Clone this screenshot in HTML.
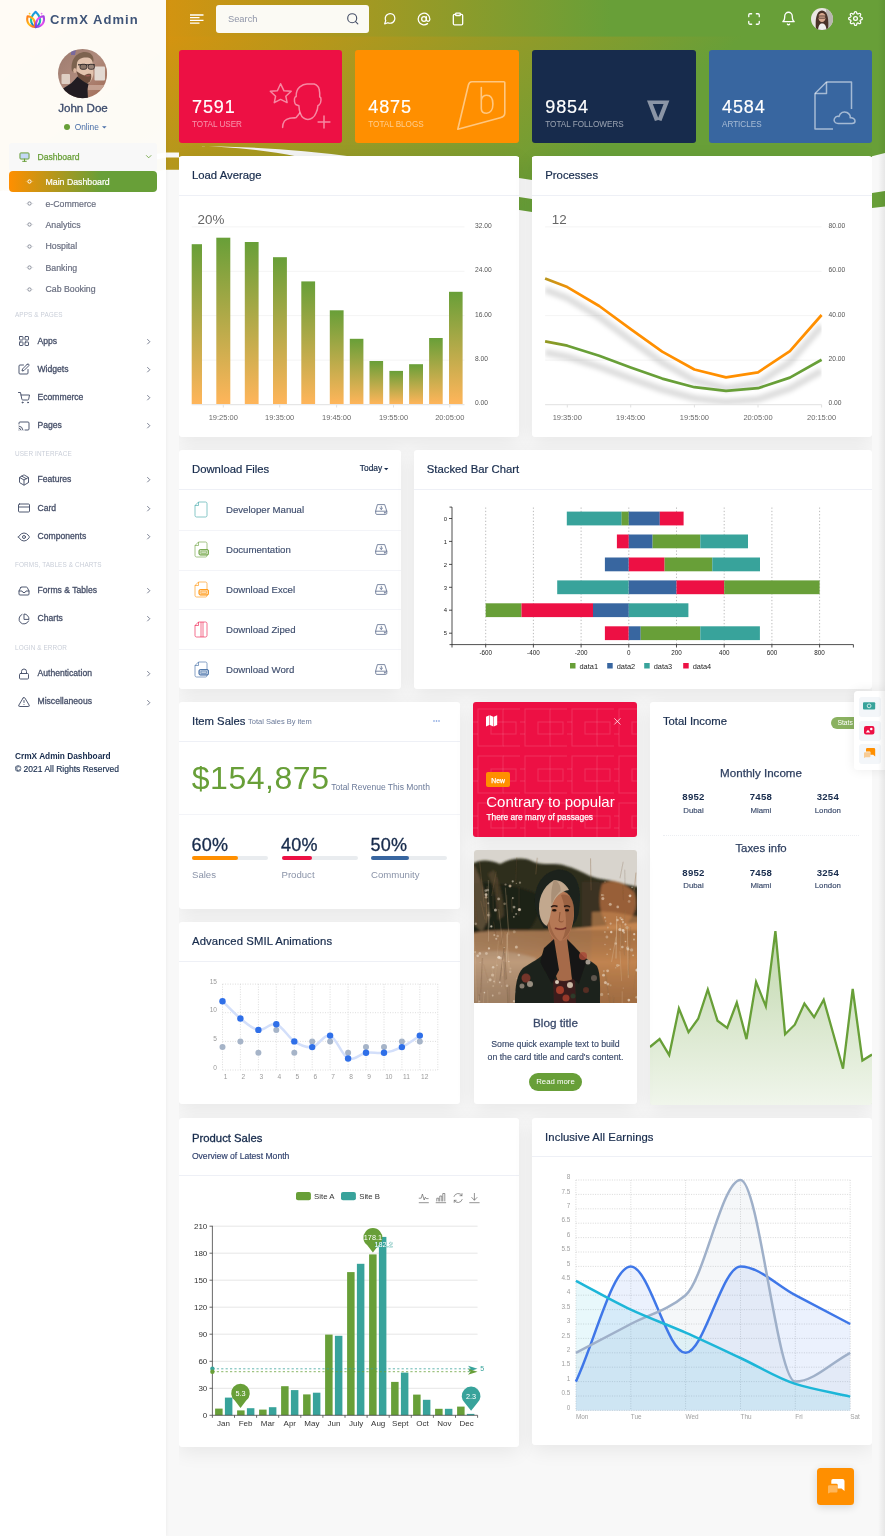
<!DOCTYPE html>
<html lang="en"><head><meta charset="utf-8"><title>CrmX Admin - Dashboard</title>
<style>
*{box-sizing:border-box;margin:0;padding:0}
html,body{width:885px;height:1536px;overflow:hidden}
body{position:relative;background:#f8f8f8;font-family:"Liberation Sans",sans-serif;color:#172b4c;font-size:10px;line-height:1}
.abs{position:absolute}
svg{display:block;overflow:visible}
.t{position:absolute;white-space:nowrap;line-height:1}
#bg{position:absolute;left:0;top:0;width:885px;height:260px}
#side{position:absolute;left:0;top:0;width:166px;height:1536px;background:rgba(255,255,255,.96);box-shadow:1px 0 3px rgba(0,0,0,.04)}
.card{position:absolute;background:#fff;border-radius:3px;box-shadow:0 5px 20px rgba(0,0,0,.075)}
.ch{position:absolute;left:0;right:0;top:0;border-bottom:1px solid #eef0f6}
.ct{position:absolute;left:13px;font-size:11.3px;color:#172b4c;white-space:nowrap;font-weight:400;-webkit-text-stroke:.2px #172b4c;margin-top:.4px}
.stat{position:absolute;top:50px;height:93px;border-radius:3px;color:#fff}
.stat .n{position:absolute;left:13px;top:47.5px;font-size:18px;letter-spacing:.9px;white-space:nowrap;-webkit-text-stroke:.2px #fff}
.stat .l{position:absolute;left:13px;top:70.5px;font-size:8.15px;white-space:nowrap;opacity:.55}
.mi{position:absolute;left:37.5px;font-size:8.6px;color:#475069;white-space:nowrap;-webkit-text-stroke:.3px #475069}
.sm{position:absolute;left:45.5px;font-size:8.6px;color:#5c6578;white-space:nowrap;-webkit-text-stroke:.3px #5c6578}
.sec{position:absolute;left:15px;font-size:6.4px;color:#c9ced8;white-space:nowrap;letter-spacing:.1px}
.chev{position:absolute;left:146px;width:5px;height:7px}
.ico{position:absolute;left:18px;width:12px;height:12px;stroke:#475069;fill:none;stroke-width:1.9;stroke-linecap:round;stroke-linejoin:round}
.bul{position:absolute;left:25px;width:9px;height:5px}

#clip{position:absolute;left:179px;top:0;width:693.2px;height:1536px;overflow:hidden}
#clipin{position:absolute;left:-179px;top:0;width:885px;height:1536px}

</style></head>
<body>
<svg id="bg" viewBox="0 0 885 260" width="885" height="260">
<defs>
<linearGradient id="gb" gradientUnits="userSpaceOnUse" x1="85" y1="-77" x2="388" y2="313"><stop offset="0" stop-color="#ff8f00"/><stop offset="1" stop-color="#689f38"/></linearGradient>
<linearGradient id="gh" gradientUnits="userSpaceOnUse" x1="-18" y1="0" x2="611" y2="0"><stop offset="0" stop-color="#ff8f00"/><stop offset="1" stop-color="#689f38"/></linearGradient>
</defs>
<path d="M0 0H885V153L872 156.2V157H532V180L519 178V157H179V152.5H166C110 160 50 183 0 191Z" fill="url(#gb)"/>
<path d="M0 191C60 184 115 168 166 157.6H179V169.7H166C115 176 60 187 0 191Z" fill="url(#gb)"/>
<path d="M519 197L532 199V212L519 210Z" fill="url(#gb)"/>
<path d="M872 192.9L885 191V206.4L872 208Z" fill="url(#gb)"/>
<path d="M183 146Q275 146 351 156.5H297Q250 146.3 183 146Z" fill="#f3f4f4"/>
<rect x="166" y="0" width="719" height="36.6" fill="url(#gh)"/>
</svg>
<div id="side"></div>
<div id="sidec">
<svg class="abs" style="left:22px;top:6px" width="28" height="28" viewBox="0 0 28 28">
<defs>
<linearGradient id="lg1" x1="0" y1="0" x2="0" y2="1"><stop offset="0" stop-color="#1a8fe6"/><stop offset=".55" stop-color="#14c8a8"/><stop offset="1" stop-color="#0f5fd8"/></linearGradient>
<linearGradient id="lg2" x1="0" y1="0" x2="1" y2="1"><stop offset="0" stop-color="#ff7a1a"/><stop offset=".5" stop-color="#ffbf1a"/><stop offset="1" stop-color="#ff5a2a"/></linearGradient>
<linearGradient id="lg3" x1="1" y1="0" x2="0" y2="1"><stop offset="0" stop-color="#9a3fe0"/><stop offset=".5" stop-color="#ee4ff2"/><stop offset="1" stop-color="#7a3fe0"/></linearGradient>
</defs>
<g fill="none" stroke-width="2.1" stroke-linejoin="round">
<path d="M13.6 5.8C9.7 9.5 8.5 13.5 9.4 16.5C10.2 19.2 12 20.6 13.6 21.3C15.2 20.6 17 19.2 17.8 16.5C18.7 13.5 17.5 9.5 13.6 5.8Z" stroke="url(#lg1)"/>
<path d="M13.2 20.8C8 21 4 17 5.6 10.2C10.5 10.4 13.6 14 13.2 20.8Z" stroke="url(#lg2)"/>
<path d="M14 20.8C19.2 21 23.2 17 21.6 10.2C16.7 10.4 13.6 14 14 20.8Z" stroke="url(#lg3)"/>
</g>
<circle cx="7.6" cy="7.6" r=".9" fill="#ffc82a"/><circle cx="19.6" cy="7.6" r=".9" fill="#e070f0"/>
</svg>
<div class="t" style="left:50px;top:12.5px;font-size:13px;font-weight:700;letter-spacing:1.05px;color:#3f5478">CrmX Admin</div>
<svg class="abs" style="left:58.4px;top:49px" width="49.2" height="49.2" viewBox="0 0 49.2 49.2">
<defs><clipPath id="av1"><circle cx="24.6" cy="24.6" r="24.6"/></clipPath><filter id="avf" x="-10%" y="-10%" width="120%" height="120%"><feGaussianBlur stdDeviation=".7"/></filter>
<linearGradient id="avb" x1="0" y1="0" x2="1" y2="1"><stop offset="0" stop-color="#9c7a6e"/><stop offset=".5" stop-color="#b08b7d"/><stop offset="1" stop-color="#a06a54"/></linearGradient></defs>
<g clip-path="url(#av1)">
<rect width="49.2" height="49.2" fill="url(#avb)"/>
<g filter="url(#avf)">
<rect x="36.5" y="17.5" width="10.5" height="14" rx="1" fill="#e3d9d2"/>
<rect x="3.5" y="25" width="8.5" height="10" rx="1" fill="#dfcfc4"/>
<rect x="30" y="36" width="20" height="5" fill="#c4a090"/>
<path d="M13 2L18 1L17 6L13 6Z" fill="#6a5fae" opacity=".7"/>
<path d="M14 22C12 12 18 3 27 3C33 3 36 7 35.5 12L34 16L20 15L17 24Z" fill="#7d6350"/>
<path d="M19 14C20 9.5 25 8 29.5 8.5C33.5 9 35 12 35 16L35.5 24C35.5 27 34 31 31.5 33.5C29 35 26 34.5 23 32C20 29 18.5 25 18.5 21Z" fill="#e2c2ad"/>
<path d="M18.5 22C19 26 21 31 24 33C27 35 30.5 34.5 32 32.5C33.5 30 33.5 27 33 25C31 24.5 28 25 26.5 26.5C24 26 21 24 18.5 22Z" fill="#6e4e3e"/>
<path d="M26.5 26.8C28 25.8 31 25.6 32.5 26.4C31.5 27.6 28 27.8 26.5 26.8Z" fill="#9a5a52"/>
<ellipse cx="16.8" cy="21.5" rx="1.6" ry="2.6" fill="#d9b49e"/>
<path d="M20 15.8H36.8" stroke="#2a2526" stroke-width="1.1"/>
<rect x="22" y="15.3" width="6.8" height="5" rx="2" fill="#8a7468" stroke="#242021" stroke-width=".8"/>
<rect x="30.2" y="15.3" width="6.2" height="5" rx="2" fill="#9a8478" stroke="#242021" stroke-width=".8"/>
<path d="M3 41C8 37.5 13 35 15.5 32L19.5 27.5C22 30 26 33.5 30.5 35L29.5 40L30 50H4Z" fill="#201e23"/>
</g></g></svg>
<div class="t" style="left:0;width:166px;text-align:center;top:101.7px;font-size:11.6px;color:#3b4a6b;-webkit-text-stroke:.3px #3b4a6b">John Doe</div>
<div class="abs" style="left:63.8px;top:124.2px;width:6.2px;height:6.2px;border-radius:50%;background:#689f38"></div>
<div class="t" style="left:74.7px;top:122.8px;font-size:8.4px;color:#4a6fa8">Online</div>
<svg class="abs" style="left:101.6px;top:126px" width="4.6" height="2.6" viewBox="0 0 10 5"><path d="M0 0H10L5 5Z" fill="#4a6fa8"/></svg>
<div class="abs" style="left:9px;top:143.2px;width:147.6px;height:28px;border-radius:3px;background:#f8f8f8"></div>
<svg class="abs" style="left:18.5px;top:152px" width="11" height="10" viewBox="0 0 24 22"><rect x="2" y="2" width="20" height="13.5" rx="2" fill="#c5d8f5" stroke="#689f38" stroke-width="2.2"/><path d="M8 20.5H16M12 15.5V20.5" stroke="#689f38" stroke-width="2.2" fill="none" stroke-linecap="round"/></svg>
<div class="mi" style="top:153.2px;color:#689f38;-webkit-text-stroke:.25px #689f38">Dashboard</div>
<svg class="abs" style="left:145.8px;top:155.3px" width="5.4" height="3.4" viewBox="0 0 12 7"><path d="M1 1L6 6L11 1" fill="none" stroke="#689f38" stroke-width="1.8" stroke-linecap="round" stroke-linejoin="round"/></svg>
<div class="abs" style="left:9px;top:171px;width:147.6px;height:21.2px;border-radius:4px;background:linear-gradient(90deg,#ff8f00 0%,#689f38 62%)"></div>
<svg class="bul" style="top:179.1px" viewBox="0 0 18 10"><circle cx="9" cy="5" r="3.3" fill="none" stroke="#fff" stroke-width="2"/><path d="M1.5 5H3.5M14.5 5H16.5" stroke="#fff" stroke-width="1" opacity=".5"/></svg>
<div class="sm" style="top:177.8px;color:#fff;font-size:8.75px;-webkit-text-stroke:.2px #fff">Main Dashboard</div>
<svg class="bul" style="top:200.8px" viewBox="0 0 18 10"><circle cx="9" cy="5" r="3.3" fill="none" stroke="#8a8f9c" stroke-width="2"/><path d="M1.5 5H3.5M14.5 5H16.5" stroke="#8a8f9c" stroke-width="1" opacity=".5"/></svg>
<div class="sm" style="top:199.5px;color:#6a6f80;font-size:8.75px;-webkit-text-stroke:.2px #6a6f80">e-Commerce</div>
<svg class="bul" style="top:222.3px" viewBox="0 0 18 10"><circle cx="9" cy="5" r="3.3" fill="none" stroke="#8a8f9c" stroke-width="2"/><path d="M1.5 5H3.5M14.5 5H16.5" stroke="#8a8f9c" stroke-width="1" opacity=".5"/></svg>
<div class="sm" style="top:221.0px;color:#6a6f80;font-size:8.75px;-webkit-text-stroke:.2px #6a6f80">Analytics</div>
<svg class="bul" style="top:243.6px" viewBox="0 0 18 10"><circle cx="9" cy="5" r="3.3" fill="none" stroke="#8a8f9c" stroke-width="2"/><path d="M1.5 5H3.5M14.5 5H16.5" stroke="#8a8f9c" stroke-width="1" opacity=".5"/></svg>
<div class="sm" style="top:242.3px;color:#6a6f80;font-size:8.75px;-webkit-text-stroke:.2px #6a6f80">Hospital</div>
<svg class="bul" style="top:265.1px" viewBox="0 0 18 10"><circle cx="9" cy="5" r="3.3" fill="none" stroke="#8a8f9c" stroke-width="2"/><path d="M1.5 5H3.5M14.5 5H16.5" stroke="#8a8f9c" stroke-width="1" opacity=".5"/></svg>
<div class="sm" style="top:263.8px;color:#6a6f80;font-size:8.75px;-webkit-text-stroke:.2px #6a6f80">Banking</div>
<svg class="bul" style="top:286.7px" viewBox="0 0 18 10"><circle cx="9" cy="5" r="3.3" fill="none" stroke="#8a8f9c" stroke-width="2"/><path d="M1.5 5H3.5M14.5 5H16.5" stroke="#8a8f9c" stroke-width="1" opacity=".5"/></svg>
<div class="sm" style="top:285.4px;color:#6a6f80;font-size:8.75px;-webkit-text-stroke:.2px #6a6f80">Cab Booking</div>
<div class="sec" style="top:312.0px">APPS &amp; PAGES</div>
<div class="sec" style="top:450.8px">USER INTERFACE</div>
<div class="sec" style="top:561.8px">FORMS, TABLES &amp; CHARTS</div>
<div class="sec" style="top:644.8px">LOGIN &amp; ERROR</div>
<svg class="ico" style="top:335.3px;left:18px" viewBox="0 0 24 24"><rect x="3" y="3" width="7" height="7" rx="1"/><rect x="14" y="3" width="7" height="7" rx="1"/><rect x="14" y="14" width="7" height="7" rx="1"/><rect x="3" y="14" width="7" height="7" rx="1"/></svg>
<div class="mi" style="top:336.6px">Apps</div>
<svg class="abs" style="left:147px;top:338.7px" width="3.4" height="5.4" viewBox="0 0 7 12"><path d="M1 1L6 6L1 11" fill="none" stroke="#475069" stroke-width="1.6" stroke-linecap="round" stroke-linejoin="round"/></svg>
<svg class="ico" style="top:363.4px;left:18px" viewBox="0 0 24 24"><path d="M11 4H4a2 2 0 0 0-2 2v14a2 2 0 0 0 2 2h14a2 2 0 0 0 2-2v-7"/><path d="M18.5 2.5a2.121 2.121 0 0 1 3 3L12 15l-4 1 1-4 9.5-9.5z"/></svg>
<div class="mi" style="top:364.7px">Widgets</div>
<svg class="abs" style="left:147px;top:366.8px" width="3.4" height="5.4" viewBox="0 0 7 12"><path d="M1 1L6 6L1 11" fill="none" stroke="#475069" stroke-width="1.6" stroke-linecap="round" stroke-linejoin="round"/></svg>
<svg class="ico" style="top:391.8px;left:18px" viewBox="0 0 24 24"><circle cx="9" cy="21" r="1"/><circle cx="20" cy="21" r="1"/><path d="M1 1h4l2.68 13.39a2 2 0 0 0 2 1.61h9.72a2 2 0 0 0 2-1.61L23 6H6"/></svg>
<div class="mi" style="top:393.1px">Ecommerce</div>
<svg class="abs" style="left:147px;top:395.2px" width="3.4" height="5.4" viewBox="0 0 7 12"><path d="M1 1L6 6L1 11" fill="none" stroke="#475069" stroke-width="1.6" stroke-linecap="round" stroke-linejoin="round"/></svg>
<svg class="ico" style="top:419.9px;left:18px" viewBox="0 0 24 24"><path d="M2 16.1A5 5 0 0 1 5.9 20M2 12.05A9 9 0 0 1 9.95 20M2 8V6a2 2 0 0 1 2-2h16a2 2 0 0 1 2 2v12a2 2 0 0 1-2 2h-6"/><line x1="2" y1="20" x2="2.01" y2="20"/></svg>
<div class="mi" style="top:421.2px">Pages</div>
<svg class="abs" style="left:147px;top:423.3px" width="3.4" height="5.4" viewBox="0 0 7 12"><path d="M1 1L6 6L1 11" fill="none" stroke="#475069" stroke-width="1.6" stroke-linecap="round" stroke-linejoin="round"/></svg>
<svg class="ico" style="top:474.0px;left:18px" viewBox="0 0 24 24"><path d="M21 16V8a2 2 0 0 0-1-1.73l-7-4a2 2 0 0 0-2 0l-7 4A2 2 0 0 0 3 8v8a2 2 0 0 0 1 1.73l7 4a2 2 0 0 0 2 0l7-4A2 2 0 0 0 21 16z"/><polyline points="3.27 6.96 12 12.01 20.73 6.96"/><line x1="12" y1="22.08" x2="12" y2="12"/><path d="M16.5 9.4l-9-5.19"/></svg>
<div class="mi" style="top:475.3px">Features</div>
<svg class="abs" style="left:147px;top:477.4px" width="3.4" height="5.4" viewBox="0 0 7 12"><path d="M1 1L6 6L1 11" fill="none" stroke="#475069" stroke-width="1.6" stroke-linecap="round" stroke-linejoin="round"/></svg>
<svg class="ico" style="top:502.2px;left:18px" viewBox="0 0 24 24"><rect x="1" y="4" width="22" height="16" rx="2"/><line x1="1" y1="10" x2="23" y2="10"/></svg>
<div class="mi" style="top:503.5px">Card</div>
<svg class="abs" style="left:147px;top:505.6px" width="3.4" height="5.4" viewBox="0 0 7 12"><path d="M1 1L6 6L1 11" fill="none" stroke="#475069" stroke-width="1.6" stroke-linecap="round" stroke-linejoin="round"/></svg>
<svg class="ico" style="top:530.6px;left:18px" viewBox="0 0 24 24"><path d="M1 12s4-8 11-8 11 8 11 8-4 8-11 8-11-8-11-8z"/><circle cx="12" cy="12" r="3"/></svg>
<div class="mi" style="top:531.9px">Components</div>
<svg class="abs" style="left:147px;top:534.0px" width="3.4" height="5.4" viewBox="0 0 7 12"><path d="M1 1L6 6L1 11" fill="none" stroke="#475069" stroke-width="1.6" stroke-linecap="round" stroke-linejoin="round"/></svg>
<svg class="ico" style="top:584.8px;left:18px" viewBox="0 0 24 24"><polyline points="22 12 16 12 14 15 10 15 8 12 2 12"/><path d="M5.45 5.11L2 12v6a2 2 0 0 0 2 2h16a2 2 0 0 0 2-2v-6l-3.45-6.89A2 2 0 0 0 16.76 4H7.24a2 2 0 0 0-1.79 1.11z"/></svg>
<div class="mi" style="top:586.1px">Forms &amp; Tables</div>
<svg class="abs" style="left:147px;top:588.2px" width="3.4" height="5.4" viewBox="0 0 7 12"><path d="M1 1L6 6L1 11" fill="none" stroke="#475069" stroke-width="1.6" stroke-linecap="round" stroke-linejoin="round"/></svg>
<svg class="ico" style="top:612.9px;left:18px" viewBox="0 0 24 24"><path d="M21.21 15.89A10 10 0 1 1 8 2.83"/><path d="M22 12A10 10 0 0 0 12 2v10z"/></svg>
<div class="mi" style="top:614.2px">Charts</div>
<svg class="abs" style="left:147px;top:616.3px" width="3.4" height="5.4" viewBox="0 0 7 12"><path d="M1 1L6 6L1 11" fill="none" stroke="#475069" stroke-width="1.6" stroke-linecap="round" stroke-linejoin="round"/></svg>
<svg class="ico" style="top:668.0px;left:18px" viewBox="0 0 24 24"><rect x="3" y="11" width="18" height="11" rx="2"/><path d="M7 11V7a5 5 0 0 1 10 0v4"/></svg>
<div class="mi" style="top:669.3px">Authentication</div>
<svg class="abs" style="left:147px;top:671.4px" width="3.4" height="5.4" viewBox="0 0 7 12"><path d="M1 1L6 6L1 11" fill="none" stroke="#475069" stroke-width="1.6" stroke-linecap="round" stroke-linejoin="round"/></svg>
<svg class="ico" style="top:696.1px;left:18px" viewBox="0 0 24 24"><path d="M10.29 3.86L1.82 18a2 2 0 0 0 1.71 3h16.94a2 2 0 0 0 1.71-3L13.71 3.86a2 2 0 0 0-3.42 0z"/><line x1="12" y1="9" x2="12" y2="13"/><line x1="12" y1="17" x2="12.01" y2="17"/></svg>
<div class="mi" style="top:697.4px">Miscellaneous</div>
<svg class="abs" style="left:147px;top:699.5px" width="3.4" height="5.4" viewBox="0 0 7 12"><path d="M1 1L6 6L1 11" fill="none" stroke="#475069" stroke-width="1.6" stroke-linecap="round" stroke-linejoin="round"/></svg>
<div class="t" style="left:15px;top:752px;font-size:8.3px;font-weight:700;color:#172b4c">CrmX Admin Dashboard</div>
<div class="t" style="left:15px;top:765.2px;font-size:8.5px;color:#172b4c;-webkit-text-stroke:.15px #172b4c">© 2021 All Rights Reserved</div>
</div>
<div id="hdr">
<svg class="abs" style="left:189.5px;top:13.6px" width="13.5" height="10" viewBox="0 0 13.5 10"><path d="M0 1H13.5M0 3.7H9.5M0 6.4H13.5M0 9.1H9.5" stroke="#fff" stroke-width="1.3" fill="none"/></svg>
<div class="abs" style="left:216px;top:5px;width:153px;height:27.5px;border-radius:3px;background:#fbfaf4"></div>
<div class="t" style="left:228px;top:14.7px;font-size:9.3px;color:#8f95a8">Search</div>
<svg class="abs" style="left:345.5px;top:12.2px" width="13.5" height="13.5" viewBox="0 0 24 24" fill="none" stroke="#475069" stroke-width="2" stroke-linecap="round"><circle cx="11" cy="11" r="8"/><line x1="21" y1="21" x2="16.65" y2="16.65"/></svg>
<svg class="abs" style="left:383px;top:11.8px" width="13.5" height="13.5" viewBox="0 0 24 24" fill="none" stroke="#fff" stroke-width="2.2" stroke-linecap="round" stroke-linejoin="round"><path d="M21 11.5a8.38 8.38 0 0 1-.9 3.8 8.5 8.5 0 0 1-7.6 4.7 8.38 8.38 0 0 1-3.8-.9L3 21l1.9-5.7a8.38 8.38 0 0 1-.9-3.8 8.5 8.5 0 0 1 4.7-7.6 8.38 8.38 0 0 1 3.8-.9h.5a8.48 8.48 0 0 1 8 8v.5z"/></svg>
<svg class="abs" style="left:416.5px;top:11.5px" width="14" height="14" viewBox="0 0 24 24" fill="none" stroke="#fff" stroke-width="2.2" stroke-linecap="round" stroke-linejoin="round"><circle cx="12" cy="12" r="4"/><path d="M16 8v5a3 3 0 0 0 6 0v-1a10 10 0 1 0-3.92 7.94"/></svg>
<svg class="abs" style="left:450.6px;top:11.5px" width="14" height="14" viewBox="0 0 24 24" fill="none" stroke="#fff" stroke-width="2.2" stroke-linecap="round" stroke-linejoin="round"><path d="M16 4h2a2 2 0 0 1 2 2v14a2 2 0 0 1-2 2H6a2 2 0 0 1-2-2V6a2 2 0 0 1 2-2h2"/><rect x="8" y="2" width="8" height="4" rx="1"/></svg>
<svg class="abs" style="left:747px;top:11.8px" width="14" height="14" viewBox="0 0 24 24" fill="none" stroke="#fff" stroke-width="2.2" stroke-linecap="round" stroke-linejoin="round"><path d="M8 3H5a2 2 0 0 0-2 2v3m18 0V5a2 2 0 0 0-2-2h-3m0 18h3a2 2 0 0 0 2-2v-3M3 16v3a2 2 0 0 0 2 2h3"/></svg>
<svg class="abs" style="left:780.5px;top:11.2px" width="15" height="15" viewBox="0 0 24 24" fill="none" stroke="#fff" stroke-width="2.1" stroke-linecap="round" stroke-linejoin="round"><path d="M18 8A6 6 0 0 0 6 8c0 7-3 9-3 9h18s-3-2-3-9"/><path d="M13.73 21a2 2 0 0 1-3.46 0"/></svg>
<svg class="abs" style="left:810.5px;top:7.8px" width="22" height="22" viewBox="0 0 22 22"><defs><clipPath id="av2"><circle cx="11" cy="11" r="11"/></clipPath></defs><g clip-path="url(#av2)"><rect width="22" height="22" fill="#e9e6e2"/><rect x="15" y="0" width="7" height="22" fill="#b9b6b0"/><path d="M5 22C4 12 5 3 11 2.5C17 3 18 12 17 22Z" fill="#4a3228"/><ellipse cx="11" cy="9.5" rx="3.6" ry="4.6" fill="#d9a98f"/><path d="M7 22C7.5 17 9 15.5 11 15.5C13.5 15.5 15 17 15.5 22Z" fill="#f1efee"/><rect x="7.6" y="8" width="6.8" height="2.2" rx=".8" fill="none" stroke="#2a1c18" stroke-width=".7"/></g></svg>
<svg class="abs" style="left:848px;top:11.3px" width="15" height="15" viewBox="0 0 24 24" fill="none" stroke="#fff" stroke-width="2" stroke-linecap="round" stroke-linejoin="round"><circle cx="12" cy="12" r="3"/><path d="M19.4 15a1.65 1.65 0 0 0 .33 1.82l.06.06a2 2 0 0 1 0 2.83 2 2 0 0 1-2.83 0l-.06-.06a1.65 1.65 0 0 0-1.82-.33 1.65 1.65 0 0 0-1 1.51V21a2 2 0 0 1-2 2 2 2 0 0 1-2-2v-.09A1.65 1.65 0 0 0 9 19.4a1.65 1.65 0 0 0-1.82.33l-.06.06a2 2 0 0 1-2.83 0 2 2 0 0 1 0-2.83l.06-.06a1.65 1.65 0 0 0 .33-1.82 1.65 1.65 0 0 0-1.51-1H3a2 2 0 0 1-2-2 2 2 0 0 1 2-2h.09A1.65 1.65 0 0 0 4.6 9a1.65 1.65 0 0 0-.33-1.82l-.06-.06a2 2 0 0 1 0-2.83 2 2 0 0 1 2.83 0l.06.06a1.65 1.65 0 0 0 1.82.33H9a1.65 1.65 0 0 0 1-1.51V3a2 2 0 0 1 2-2 2 2 0 0 1 2 2v.09a1.65 1.65 0 0 0 1 1.51 1.65 1.65 0 0 0 1.82-.33l.06-.06a2 2 0 0 1 2.83 0 2 2 0 0 1 0 2.83l-.06.06a1.65 1.65 0 0 0-.33 1.82V9a1.65 1.65 0 0 0 1.51 1H21a2 2 0 0 1 2 2 2 2 0 0 1-2 2h-.09a1.65 1.65 0 0 0-1.51 1z"/></svg>
</div>
<div id="clip"><div id="clipin">
<div id="stats">
<div class="stat" style="left:179px;width:163.2px;background:#ed1044"><div class="n">7591</div><div class="l">TOTAL USER</div>
<svg class="abs" style="left:91px;top:33px" width="62" height="47" viewBox="0 0 62 47" fill="none" stroke="#fff" stroke-opacity=".5" stroke-width="1.5" stroke-linejoin="round" stroke-linecap="round"><path d="M10.6 .8L14 7.8L21.2 8.3L15.8 13.2L17.1 19.6L10.6 16.4L4.3 19.6L5.6 13.2L.3 8.3L7.4 7.8Z"/><path d="M26.2 13.5C26 9.5 27 6 29.8 3.8C32 2 34.5 1 37 1H44.2C47 2 48.8 4 49.2 6.5C49.8 9 49.8 11.5 49.7 13.7C50.8 14.2 51.2 15.5 51 17C50.9 19 50.4 21 49.2 21.8L47.9 22.7C47.8 25.5 47 28 46 30C45 32.5 43.8 34 42.4 34.9C41 36 39.5 36.5 37.9 36.5C36.3 36.5 34.8 36 33.4 34.9C32 34 31 32.3 30.2 30C29.4 27.8 29 25.3 28.9 22.7L26.2 21.8C25 21 24.6 19.8 24.5 18.5C24.4 16.8 24.5 15 24.8 14.6C25.2 14 25.7 13.7 26.2 13.5Z"/><path d="M29.8 30L26.2 34.5C24.5 35.2 22 35 19.8 35.2C17.5 35.6 15.6 36.6 14.4 38.1C13.2 39.8 12.7 42 12.6 44.4"/><path d="M54 33.1V44.9M48.1 39H59.9"/></svg></div>
<div class="stat" style="left:355.3px;width:163.9px;background:#ff8f00"><div class="n">4875</div><div class="l">TOTAL BLOGS</div>
<svg class="abs" style="left:100px;top:31px" width="52" height="50" viewBox="0 0 52 50" fill="none" stroke="#fff" stroke-opacity=".5" stroke-width="1.6" stroke-linejoin="round" stroke-linecap="round"><path d="M16.8 .8H48.8A1 1 0 0 1 49.8 1.8V32C49.8 34.5 48 36 45.3 36.7L2.8 48.2L13.4 4C13.9 2 15 .8 16.8 .8Z"/><path d="M26.3 6.6V27.5C26.3 30.5 28.5 32.2 31.7 32.2C35.5 32.2 37.9 28.5 37.9 23C37.9 17.5 35.5 14.3 31.7 14.3C29 14.3 27 16 26.3 19"/></svg></div>
<div class="stat" style="left:532.3px;width:163.5px;background:#172b4c"><div class="n">9854</div><div class="l">TOTAL FOLLOWERS</div>
<svg class="abs" style="left:114.8px;top:49.5px" width="22.4" height="21.5" viewBox="0 0 24 22"><path d="M0 0H24L15.5 22L12 20.8L8.5 22Z M6.2 3.8H17.8L12 18.5Z" fill="#fff" fill-opacity=".5" fill-rule="evenodd"/></svg></div>
<div class="stat" style="left:709px;width:163.2px;background:#3866a0"><div class="n">4584</div><div class="l">ARTICLES</div>
<svg class="abs" style="left:104px;top:31px" width="44" height="50" viewBox="0 0 44 50" fill="none" stroke="#fff" stroke-opacity=".55" stroke-width="1.5" stroke-linejoin="round"><path d="M20 48H2V12.5L13.5 1H38.5V28"/><path d="M13.5 1V12.5H2"/><path d="M25 42.5C21.5 42.5 20.5 39.5 21.5 37.5C22.5 35.5 24.5 35 26 35.5C27 31.5 31 30 34 31.5C36.5 32.8 37.5 35 37.2 36.8C40 36.5 42 38 42 40C42 41.5 41 42.5 39 42.5Z"/></svg></div>
</div>
<div class="card" style="left:179px;top:156px;width:340px;height:280.5px"><div class="ch" style="height:39.5px"><div class="ct" style="top:13.8px">Load Average</div></div></div>
<div class="card" style="left:532.3px;top:156px;width:339.7px;height:280.5px"><div class="ch" style="height:39.5px"><div class="ct" style="top:13.8px">Processes</div></div></div>
<svg class="abs" style="left:0;top:0" width="885" height="450" viewBox="0 0 885 450">
<defs><linearGradient id="bg1" x1="0" y1="0" x2="0" y2="1"><stop offset="0" stop-color="#689f38"/><stop offset="1" stop-color="#ffb55a"/></linearGradient><linearGradient id="lo" gradientUnits="userSpaceOnUse" x1="545" y1="0" x2="575" y2="0"><stop offset="0" stop-color="#b8961f"/><stop offset="1" stop-color="#ff8f00"/></linearGradient><linearGradient id="lgn" gradientUnits="userSpaceOnUse" x1="545" y1="0" x2="575" y2="0"><stop offset="0" stop-color="#96981f"/><stop offset="1" stop-color="#689f38"/></linearGradient><filter id="blur1" x="-10%" y="-50%" width="120%" height="200%"><feGaussianBlur stdDeviation="2.2"/></filter></defs>
<path d="M191.7 226.9H464.5" stroke="#f4f4f4" stroke-width="1"/>
<path d="M191.7 271.3H464.5" stroke="#f4f4f4" stroke-width="1"/>
<path d="M191.7 315.6H464.5" stroke="#f4f4f4" stroke-width="1"/>
<path d="M191.7 360.1H464.5" stroke="#f4f4f4" stroke-width="1"/>
<rect x="191.7" y="244.2" width="10.3" height="159.9" fill="url(#bg1)"/>
<rect x="216.3" y="237.7" width="14.0" height="166.4" fill="url(#bg1)"/>
<rect x="244.8" y="242" width="13.8" height="162.1" fill="url(#bg1)"/>
<rect x="273" y="257.2" width="13.9" height="146.9" fill="url(#bg1)"/>
<rect x="301.3" y="281.4" width="13.8" height="122.7" fill="url(#bg1)"/>
<rect x="329.8" y="310.3" width="13.8" height="93.8" fill="url(#bg1)"/>
<rect x="349.8" y="338.8" width="13.6" height="65.3" fill="url(#bg1)"/>
<rect x="369.5" y="361" width="13.6" height="43.1" fill="url(#bg1)"/>
<rect x="389.4" y="370.9" width="13.6" height="33.2" fill="url(#bg1)"/>
<rect x="409.1" y="364.2" width="13.9" height="39.9" fill="url(#bg1)"/>
<rect x="429.1" y="338" width="13.6" height="66.1" fill="url(#bg1)"/>
<rect x="449" y="291.8" width="13.6" height="112.3" fill="url(#bg1)"/>
<path d="M191.7 404.6H464.5" stroke="#e6e6e6" stroke-width="1.2"/>
<path d="M223.3 404.6V407.5" stroke="#e0e0e0" stroke-width="1"/>
<text x="223.3" y="419.8" text-anchor="middle" font-size="7.5" fill="#6a6a6a" style="font-family:'Liberation Sans',sans-serif">19:25:00</text>
<path d="M279.7 404.6V407.5" stroke="#e0e0e0" stroke-width="1"/>
<text x="279.7" y="419.8" text-anchor="middle" font-size="7.5" fill="#6a6a6a" style="font-family:'Liberation Sans',sans-serif">19:35:00</text>
<path d="M336.6 404.6V407.5" stroke="#e0e0e0" stroke-width="1"/>
<text x="336.6" y="419.8" text-anchor="middle" font-size="7.5" fill="#6a6a6a" style="font-family:'Liberation Sans',sans-serif">19:45:00</text>
<path d="M393.5 404.6V407.5" stroke="#e0e0e0" stroke-width="1"/>
<text x="393.5" y="419.8" text-anchor="middle" font-size="7.5" fill="#6a6a6a" style="font-family:'Liberation Sans',sans-serif">19:55:00</text>
<path d="M449.8 404.6V407.5" stroke="#e0e0e0" stroke-width="1"/>
<text x="449.8" y="419.8" text-anchor="middle" font-size="7.5" fill="#6a6a6a" style="font-family:'Liberation Sans',sans-serif">20:05:00</text>
<text x="475" y="227.9" font-size="6.7" fill="#555" style="font-family:'Liberation Sans',sans-serif">32.00</text>
<text x="475" y="272.4" font-size="6.7" fill="#555" style="font-family:'Liberation Sans',sans-serif">24.00</text>
<text x="475" y="317.0" font-size="6.7" fill="#555" style="font-family:'Liberation Sans',sans-serif">16.00</text>
<text x="475" y="361.09999999999997" font-size="6.7" fill="#555" style="font-family:'Liberation Sans',sans-serif">8.00</text>
<text x="475" y="405.4" font-size="6.7" fill="#555" style="font-family:'Liberation Sans',sans-serif">0.00</text>
<text x="197.6" y="224.1" font-size="13.4" fill="#666" style="font-family:'Liberation Sans',sans-serif">20%</text>
<path d="M545.1 226.9H821.6" stroke="#f4f4f4" stroke-width="1"/>
<path d="M545.1 271.3H821.6" stroke="#f4f4f4" stroke-width="1"/>
<path d="M545.1 315.6H821.6" stroke="#f4f4f4" stroke-width="1"/>
<path d="M545.1 360.1H821.6" stroke="#f4f4f4" stroke-width="1"/>
<clipPath id="pc"><rect x="545.1" y="200" width="276.5" height="204.5"/></clipPath>
<g clip-path="url(#pc)"><path d="M545.1 289.4 L567.3 298.1 L599.2 317.0 L630.7 340.2 L662.2 362.6 L694.4 380.5 L726.0 388.4 L758.0 383.3 L789.9 362.2 L821.6 326.0" stroke="#000" stroke-opacity=".13" stroke-width="7" fill="none" filter="url(#blur1)"/><path d="M545.1 352.4 L567.3 356.7 L599.2 366.7 L630.7 378.5 L662.2 389.6 L694.4 398.2 L726.0 401.8 L758.0 399.2 L789.9 388.6 L821.6 370.7" stroke="#000" stroke-opacity=".13" stroke-width="7" fill="none" filter="url(#blur1)"/></g>
<path d="M545.1 404.6H821.6" stroke="#e6e6e6" stroke-width="1.2"/>
<path d="M545.1 278.4 L567.3 287.1 L599.2 306.0 L630.7 329.2 L662.2 351.6 L694.4 369.5 L726.0 377.4 L758.0 372.3 L789.9 351.2 L821.6 315.0" stroke="url(#lo)" stroke-width="2.7" fill="none" stroke-linejoin="round"/>
<path d="M545.1 341.4 L567.3 345.7 L599.2 355.7 L630.7 367.5 L662.2 378.6 L694.4 387.2 L726.0 390.8 L758.0 388.2 L789.9 377.6 L821.6 359.7" stroke="url(#lgn)" stroke-width="2.7" fill="none" stroke-linejoin="round"/>
<path d="M567.3 404.6V407.5" stroke="#e0e0e0" stroke-width="1"/>
<text x="567.3" y="419.8" text-anchor="middle" font-size="7.5" fill="#6a6a6a" style="font-family:'Liberation Sans',sans-serif">19:35:00</text>
<path d="M630.7 404.6V407.5" stroke="#e0e0e0" stroke-width="1"/>
<text x="630.7" y="419.8" text-anchor="middle" font-size="7.5" fill="#6a6a6a" style="font-family:'Liberation Sans',sans-serif">19:45:00</text>
<path d="M694.4 404.6V407.5" stroke="#e0e0e0" stroke-width="1"/>
<text x="694.4" y="419.8" text-anchor="middle" font-size="7.5" fill="#6a6a6a" style="font-family:'Liberation Sans',sans-serif">19:55:00</text>
<path d="M758 404.6V407.5" stroke="#e0e0e0" stroke-width="1"/>
<text x="758" y="419.8" text-anchor="middle" font-size="7.5" fill="#6a6a6a" style="font-family:'Liberation Sans',sans-serif">20:05:00</text>
<path d="M821.6 404.6V407.5" stroke="#e0e0e0" stroke-width="1"/>
<text x="821.6" y="419.8" text-anchor="middle" font-size="7.5" fill="#6a6a6a" style="font-family:'Liberation Sans',sans-serif">20:15:00</text>
<text x="828.5" y="227.9" font-size="6.7" fill="#555" style="font-family:'Liberation Sans',sans-serif">80.00</text>
<text x="828.5" y="272.4" font-size="6.7" fill="#555" style="font-family:'Liberation Sans',sans-serif">60.00</text>
<text x="828.5" y="317.0" font-size="6.7" fill="#555" style="font-family:'Liberation Sans',sans-serif">40.00</text>
<text x="828.5" y="361.09999999999997" font-size="6.7" fill="#555" style="font-family:'Liberation Sans',sans-serif">20.00</text>
<text x="828.5" y="405.4" font-size="6.7" fill="#555" style="font-family:'Liberation Sans',sans-serif">0.00</text>
<text x="551.8" y="224.1" font-size="13.4" fill="#666" style="font-family:'Liberation Sans',sans-serif">12</text>
</svg>
<div class="card" style="left:179px;top:449.8px;width:222.2px;height:239px"><div class="ch" style="height:39.8px"><div class="ct" style="top:13.9px">Download Files</div><div class="t" style="right:19px;top:14.6px;font-size:8.4px;color:#172b4c;-webkit-text-stroke:.2px #172b4c">Today</div><svg class="abs" style="right:13.2px;top:18.3px" width="4.4" height="2.4" viewBox="0 0 10 5"><path d="M0 0H10L5 5Z" fill="#172b4c"/></svg></div></div>
<svg class="abs" style="left:194px;top:501.3px" width="15.5" height="17" viewBox="0 0 15.5 17" fill="none" stroke="#38a3a5" stroke-opacity=".6" stroke-width="1" stroke-linejoin="round"><path d="M4.5 1H11.5C12.3 1 13 1.7 13 2.5V14.5C13 15.3 12.3 16 11.5 16H2.5C1.7 16 1 15.3 1 14.5V4.5Z M4.5 1V4.5H1"/></svg>
<div class="t" style="left:226px;top:505.3px;font-size:9.65px;color:#3f4e6e;-webkit-text-stroke:.15px #3f4e6e">Developer Manual</div>
<svg class="abs" style="left:375px;top:504.0px" width="12.5" height="11" viewBox="0 0 12.5 11" fill="none" stroke="#5a6a8a" stroke-width=".8" stroke-linejoin="round" stroke-linecap="round"><path d="M2.8 .6H9.7L11.8 7.2V9.3C11.8 9.9 11.3 10.4 10.7 10.4H1.8C1.2 10.4 .7 9.9 .7 9.3V7.2Z"/><path d="M.7 7.2H11.8"/><path d="M6.25 2.3V5.3M4.9 4.1L6.25 5.4L7.6 4.1"/><circle cx="9.8" cy="8.8" r=".4"/></svg>
<div class="abs" style="left:179px;top:529.7px;width:222.2px;height:1px;background:#f3f4f8"></div>
<svg class="abs" style="left:194px;top:541.4px" width="15.5" height="17" viewBox="0 0 15.5 17" fill="none" stroke="#689f38" stroke-opacity=".6" stroke-width="1" stroke-linejoin="round"><path d="M4.5 1H11.5C12.3 1 13 1.7 13 2.5V14.5C13 15.3 12.3 16 11.5 16H2.5C1.7 16 1 15.3 1 14.5V4.5Z M4.5 1V4.5H1"/><rect x="5" y="8.5" width="9.5" height="5.5" rx="1.5" fill="#fff"/><rect x="5" y="8.5" width="9.5" height="5.5" rx="1.5" fill="#689f38" fill-opacity=".35"/><rect x="7" y="10" width="5.5" height="2.5" rx=".5" stroke-width=".7"/></svg>
<div class="t" style="left:226px;top:545.4px;font-size:9.65px;color:#3f4e6e;-webkit-text-stroke:.15px #3f4e6e">Documentation</div>
<svg class="abs" style="left:375px;top:544.1px" width="12.5" height="11" viewBox="0 0 12.5 11" fill="none" stroke="#5a6a8a" stroke-width=".8" stroke-linejoin="round" stroke-linecap="round"><path d="M2.8 .6H9.7L11.8 7.2V9.3C11.8 9.9 11.3 10.4 10.7 10.4H1.8C1.2 10.4 .7 9.9 .7 9.3V7.2Z"/><path d="M.7 7.2H11.8"/><path d="M6.25 2.3V5.3M4.9 4.1L6.25 5.4L7.6 4.1"/><circle cx="9.8" cy="8.8" r=".4"/></svg>
<div class="abs" style="left:179px;top:569.5px;width:222.2px;height:1px;background:#f3f4f8"></div>
<svg class="abs" style="left:194px;top:581.2px" width="15.5" height="17" viewBox="0 0 15.5 17" fill="none" stroke="#ff8f00" stroke-opacity=".6" stroke-width="1" stroke-linejoin="round"><path d="M4.5 1H11.5C12.3 1 13 1.7 13 2.5V14.5C13 15.3 12.3 16 11.5 16H2.5C1.7 16 1 15.3 1 14.5V4.5Z M4.5 1V4.5H1"/><rect x="5" y="8.5" width="9.5" height="5.5" rx="1.5" fill="#fff"/><rect x="5" y="8.5" width="9.5" height="5.5" rx="1.5" fill="#ff8f00" fill-opacity=".35"/><rect x="7" y="10" width="5.5" height="2.5" rx=".5" stroke-width=".7"/></svg>
<div class="t" style="left:226px;top:585.2px;font-size:9.65px;color:#3f4e6e;-webkit-text-stroke:.15px #3f4e6e">Download Excel</div>
<svg class="abs" style="left:375px;top:583.9px" width="12.5" height="11" viewBox="0 0 12.5 11" fill="none" stroke="#5a6a8a" stroke-width=".8" stroke-linejoin="round" stroke-linecap="round"><path d="M2.8 .6H9.7L11.8 7.2V9.3C11.8 9.9 11.3 10.4 10.7 10.4H1.8C1.2 10.4 .7 9.9 .7 9.3V7.2Z"/><path d="M.7 7.2H11.8"/><path d="M6.25 2.3V5.3M4.9 4.1L6.25 5.4L7.6 4.1"/><circle cx="9.8" cy="8.8" r=".4"/></svg>
<div class="abs" style="left:179px;top:609.4px;width:222.2px;height:1px;background:#f3f4f8"></div>
<svg class="abs" style="left:194px;top:621.1px" width="15.5" height="17" viewBox="0 0 15.5 17" fill="none" stroke="#ed1044" stroke-opacity=".6" stroke-width="1" stroke-linejoin="round"><path d="M4.5 1H11.5C12.3 1 13 1.7 13 2.5V14.5C13 15.3 12.3 16 11.5 16H2.5C1.7 16 1 15.3 1 14.5V4.5Z M4.5 1V4.5H1"/><path d="M7 1V16M9 1V16"/></svg>
<div class="t" style="left:226px;top:625.1px;font-size:9.65px;color:#3f4e6e;-webkit-text-stroke:.15px #3f4e6e">Download Ziped</div>
<svg class="abs" style="left:375px;top:623.8px" width="12.5" height="11" viewBox="0 0 12.5 11" fill="none" stroke="#5a6a8a" stroke-width=".8" stroke-linejoin="round" stroke-linecap="round"><path d="M2.8 .6H9.7L11.8 7.2V9.3C11.8 9.9 11.3 10.4 10.7 10.4H1.8C1.2 10.4 .7 9.9 .7 9.3V7.2Z"/><path d="M.7 7.2H11.8"/><path d="M6.25 2.3V5.3M4.9 4.1L6.25 5.4L7.6 4.1"/><circle cx="9.8" cy="8.8" r=".4"/></svg>
<div class="abs" style="left:179px;top:649.2px;width:222.2px;height:1px;background:#f3f4f8"></div>
<svg class="abs" style="left:194px;top:660.9px" width="15.5" height="17" viewBox="0 0 15.5 17" fill="none" stroke="#3866a0" stroke-opacity=".6" stroke-width="1" stroke-linejoin="round"><path d="M4.5 1H11.5C12.3 1 13 1.7 13 2.5V14.5C13 15.3 12.3 16 11.5 16H2.5C1.7 16 1 15.3 1 14.5V4.5Z M4.5 1V4.5H1"/><rect x="5" y="8.5" width="9.5" height="5.5" rx="1.5" fill="#fff"/><rect x="5" y="8.5" width="9.5" height="5.5" rx="1.5" fill="#3866a0" fill-opacity=".35"/><rect x="7" y="10" width="5.5" height="2.5" rx=".5" stroke-width=".7"/></svg>
<div class="t" style="left:226px;top:664.9px;font-size:9.65px;color:#3f4e6e;-webkit-text-stroke:.15px #3f4e6e">Download Word</div>
<svg class="abs" style="left:375px;top:663.6px" width="12.5" height="11" viewBox="0 0 12.5 11" fill="none" stroke="#5a6a8a" stroke-width=".8" stroke-linejoin="round" stroke-linecap="round"><path d="M2.8 .6H9.7L11.8 7.2V9.3C11.8 9.9 11.3 10.4 10.7 10.4H1.8C1.2 10.4 .7 9.9 .7 9.3V7.2Z"/><path d="M.7 7.2H11.8"/><path d="M6.25 2.3V5.3M4.9 4.1L6.25 5.4L7.6 4.1"/><circle cx="9.8" cy="8.8" r=".4"/></svg>
<div class="card" style="left:413.8px;top:449.8px;width:458.2px;height:239px"><div class="ch" style="height:39.8px"><div class="ct" style="top:13.9px">Stacked Bar Chart</div></div></div>
<svg class="abs" style="left:0;top:440px" width="885" height="260" viewBox="0 440 885 260">
<path d="M485.7 507.5V644.6" stroke="#aaa" stroke-width=".8" stroke-dasharray="1.3 2"/>
<path d="M533.4 507.5V644.6" stroke="#aaa" stroke-width=".8" stroke-dasharray="1.3 2"/>
<path d="M581.1 507.5V644.6" stroke="#aaa" stroke-width=".8" stroke-dasharray="1.3 2"/>
<path d="M628.8 507.5V644.6" stroke="#aaa" stroke-width=".8" stroke-dasharray="1.3 2"/>
<path d="M676.5 507.5V644.6" stroke="#aaa" stroke-width=".8" stroke-dasharray="1.3 2"/>
<path d="M724.2 507.5V644.6" stroke="#aaa" stroke-width=".8" stroke-dasharray="1.3 2"/>
<path d="M771.9 507.5V644.6" stroke="#aaa" stroke-width=".8" stroke-dasharray="1.3 2"/>
<path d="M819.6 507.5V644.6" stroke="#aaa" stroke-width=".8" stroke-dasharray="1.3 2"/>
<rect x="566.8" y="511.6" width="54.9" height="13.8" fill="#38a39b"/>
<rect x="621.6" y="511.6" width="7.2" height="13.8" fill="#689f38"/>
<rect x="628.8" y="511.6" width="31.0" height="13.8" fill="#3866a0"/>
<rect x="659.8" y="511.6" width="23.8" height="13.8" fill="#ed1044"/>
<path d="M449 518.5H452" stroke="#222" stroke-width=".8"/>
<text x="447" y="520.7" text-anchor="end" font-size="5.9" fill="#222" style="font-family:'Liberation Sans',sans-serif">0</text>
<rect x="616.9" y="534.5" width="11.9" height="13.8" fill="#ed1044"/>
<rect x="628.8" y="534.5" width="23.8" height="13.8" fill="#3866a0"/>
<rect x="652.6" y="534.5" width="47.7" height="13.8" fill="#689f38"/>
<rect x="700.3" y="534.5" width="47.7" height="13.8" fill="#38a39b"/>
<path d="M449 541.4H452" stroke="#222" stroke-width=".8"/>
<text x="447" y="543.6" text-anchor="end" font-size="5.9" fill="#222" style="font-family:'Liberation Sans',sans-serif">1</text>
<rect x="604.9" y="557.5" width="23.8" height="13.8" fill="#3866a0"/>
<rect x="628.8" y="557.5" width="35.8" height="13.8" fill="#ed1044"/>
<rect x="664.6" y="557.5" width="47.7" height="13.8" fill="#689f38"/>
<rect x="712.3" y="557.5" width="47.7" height="13.8" fill="#38a39b"/>
<path d="M449 564.4H452" stroke="#222" stroke-width=".8"/>
<text x="447" y="566.6" text-anchor="end" font-size="5.9" fill="#222" style="font-family:'Liberation Sans',sans-serif">2</text>
<rect x="557.2" y="580.4" width="71.5" height="13.8" fill="#38a39b"/>
<rect x="628.8" y="580.4" width="47.7" height="13.8" fill="#3866a0"/>
<rect x="676.5" y="580.4" width="47.7" height="13.8" fill="#ed1044"/>
<rect x="724.2" y="580.4" width="95.4" height="13.8" fill="#689f38"/>
<path d="M449 587.3H452" stroke="#222" stroke-width=".8"/>
<text x="447" y="589.5" text-anchor="end" font-size="5.9" fill="#222" style="font-family:'Liberation Sans',sans-serif">3</text>
<rect x="485.7" y="603.3" width="35.8" height="13.8" fill="#689f38"/>
<rect x="521.5" y="603.3" width="71.5" height="13.8" fill="#ed1044"/>
<rect x="593.0" y="603.3" width="35.8" height="13.8" fill="#3866a0"/>
<rect x="628.8" y="603.3" width="59.6" height="13.8" fill="#38a39b"/>
<path d="M449 610.2H452" stroke="#222" stroke-width=".8"/>
<text x="447" y="612.4" text-anchor="end" font-size="5.9" fill="#222" style="font-family:'Liberation Sans',sans-serif">4</text>
<rect x="604.9" y="626.3" width="23.8" height="13.8" fill="#ed1044"/>
<rect x="628.8" y="626.3" width="11.9" height="13.8" fill="#3866a0"/>
<rect x="640.7" y="626.3" width="59.6" height="13.8" fill="#689f38"/>
<rect x="700.3" y="626.3" width="59.6" height="13.8" fill="#38a39b"/>
<path d="M449 633.2H452" stroke="#222" stroke-width=".8"/>
<text x="447" y="635.4" text-anchor="end" font-size="5.9" fill="#222" style="font-family:'Liberation Sans',sans-serif">5</text>
<path d="M449.5 507.1H452V644.6H853.4M452 644.6V647.5M853.4 644.6V647.5M449.5 644.6H452" stroke="#222" stroke-width=".8" fill="none"/>
<path d="M485.7 644.6V647.5" stroke="#222" stroke-width=".8"/>
<text x="485.7" y="655" text-anchor="middle" font-size="6.3" fill="#222" style="font-family:'Liberation Sans',sans-serif">-600</text>
<path d="M533.4 644.6V647.5" stroke="#222" stroke-width=".8"/>
<text x="533.4" y="655" text-anchor="middle" font-size="6.3" fill="#222" style="font-family:'Liberation Sans',sans-serif">-400</text>
<path d="M581.1 644.6V647.5" stroke="#222" stroke-width=".8"/>
<text x="581.1" y="655" text-anchor="middle" font-size="6.3" fill="#222" style="font-family:'Liberation Sans',sans-serif">-200</text>
<path d="M628.8 644.6V647.5" stroke="#222" stroke-width=".8"/>
<text x="628.8" y="655" text-anchor="middle" font-size="6.3" fill="#222" style="font-family:'Liberation Sans',sans-serif">0</text>
<path d="M676.5 644.6V647.5" stroke="#222" stroke-width=".8"/>
<text x="676.5" y="655" text-anchor="middle" font-size="6.3" fill="#222" style="font-family:'Liberation Sans',sans-serif">200</text>
<path d="M724.2 644.6V647.5" stroke="#222" stroke-width=".8"/>
<text x="724.2" y="655" text-anchor="middle" font-size="6.3" fill="#222" style="font-family:'Liberation Sans',sans-serif">400</text>
<path d="M771.9 644.6V647.5" stroke="#222" stroke-width=".8"/>
<text x="771.9" y="655" text-anchor="middle" font-size="6.3" fill="#222" style="font-family:'Liberation Sans',sans-serif">600</text>
<path d="M819.6 644.6V647.5" stroke="#222" stroke-width=".8"/>
<text x="819.6" y="655" text-anchor="middle" font-size="6.3" fill="#222" style="font-family:'Liberation Sans',sans-serif">800</text>
<rect x="570" y="663" width="5.5" height="5.5" fill="#689f38"/>
<text x="579.5" y="668.6" font-size="7.4" fill="#222" style="font-family:'Liberation Sans',sans-serif">data1</text>
<rect x="607.2" y="663" width="5.5" height="5.5" fill="#3866a0"/>
<text x="616.7" y="668.6" font-size="7.4" fill="#222" style="font-family:'Liberation Sans',sans-serif">data2</text>
<rect x="644.2" y="663" width="5.5" height="5.5" fill="#38a39b"/>
<text x="653.7" y="668.6" font-size="7.4" fill="#222" style="font-family:'Liberation Sans',sans-serif">data3</text>
<rect x="683.2" y="663" width="5.5" height="5.5" fill="#ed1044"/>
<text x="692.7" y="668.6" font-size="7.4" fill="#222" style="font-family:'Liberation Sans',sans-serif">data4</text>
</svg>
<div class="card" style="left:179px;top:702.2px;width:281px;height:206.4px"><div class="ch" style="height:39.5px"><div class="ct" style="top:13.8px">Item Sales</div><div class="t" style="left:69px;top:16px;font-size:7.5px;color:#6b7a99">Total Sales By item</div><svg class="abs" style="left:253.8px;top:18.3px" width="7" height="2" viewBox="0 0 7 2"><circle cx="1" cy="1" r=".8" fill="#6a8fd8"/><circle cx="3.5" cy="1" r=".8" fill="#6a8fd8"/><circle cx="6" cy="1" r=".8" fill="#6a8fd8"/></svg></div></div>
<div class="t" style="left:191.7px;top:762.3px;font-size:32px;letter-spacing:.55px;color:#689f38">$154,875</div>
<div class="t" style="left:331.3px;top:782.6px;font-size:8.5px;color:#6b7a99">Total Revenue This Month</div>
<div class="abs" style="left:179px;top:814.2px;width:281px;height:1px;background:#f3f4f8"></div>
<div class="t" style="left:191.5px;top:836px;font-size:18px;letter-spacing:.3px;color:#172b4c;-webkit-text-stroke:.3px #172b4c">60%</div>
<div class="abs" style="left:192px;top:855.5px;width:76.4px;height:4.3px;border-radius:2.2px;background:#e9ecef"><div style="width:60%;height:100%;border-radius:2.2px;background:#ff8f00"></div></div>
<div class="t" style="left:192px;top:870.3px;font-size:9.6px;color:#8a93a8">Sales</div>
<div class="t" style="left:281.0px;top:836px;font-size:18px;letter-spacing:.3px;color:#172b4c;-webkit-text-stroke:.3px #172b4c">40%</div>
<div class="abs" style="left:281.5px;top:855.5px;width:76.4px;height:4.3px;border-radius:2.2px;background:#e9ecef"><div style="width:40%;height:100%;border-radius:2.2px;background:#ed1044"></div></div>
<div class="t" style="left:281.5px;top:870.3px;font-size:9.6px;color:#8a93a8">Product</div>
<div class="t" style="left:370.5px;top:836px;font-size:18px;letter-spacing:.3px;color:#172b4c;-webkit-text-stroke:.3px #172b4c">50%</div>
<div class="abs" style="left:371px;top:855.5px;width:76.4px;height:4.3px;border-radius:2.2px;background:#e9ecef"><div style="width:50%;height:100%;border-radius:2.2px;background:#3866a0"></div></div>
<div class="t" style="left:371px;top:870.3px;font-size:9.6px;color:#8a93a8">Community</div>
<div class="abs" style="left:473.1px;top:702.1px;width:164px;height:135px;border-radius:3px;background:#ed1044;overflow:hidden;box-shadow:0 5px 20px rgba(0,0,0,.075)"><svg class="abs" style="left:0;top:0" width="164" height="135"><defs><pattern id="sq" x="0" y="2" width="47" height="47" patternUnits="userSpaceOnUse"><g fill="none" stroke="#fff" stroke-opacity=".13" stroke-width="1"><rect x="5" y="5" width="25" height="37"/><rect x="18" y="18" width="25" height="12"/><path d="M30 5H47M30 42H47M0 30H5M0 18H5"/></g></pattern></defs><rect width="164" height="135" fill="url(#sq)"/></svg><svg class="abs" style="left:12.9px;top:13.2px" width="11.2" height="11.8" viewBox="0 0 11.2 11.8"><path d="M0 1.8L3.4 .3V10L0 11.5ZM3.9 .3L7.3 1.8V11.5L3.9 10ZM7.8 1.8L11.2 .3V10L7.8 11.5Z" fill="#fff"/></svg><svg class="abs" style="left:141.4px;top:15.7px" width="6.8" height="6.8" viewBox="0 0 6.8 6.8"><path d="M.3 .3L6.5 6.5M6.5 .3L.3 6.5" stroke="#fff" stroke-width=".8" stroke-opacity=".9"/></svg><div class="abs" style="left:13.1px;top:70.4px;width:23.8px;height:14.5px;border-radius:2px;background:#ff8f00"></div><div class="t" style="left:13.1px;width:23.8px;text-align:center;top:75.5px;font-size:6.8px;color:#fff;-webkit-text-stroke:.25px #fff">New</div><div class="t" style="left:13.2px;top:92px;font-size:15px;color:#fff">Contrary to popular</div><div class="t" style="left:13.3px;top:111.2px;font-size:8.4px;color:#fff;-webkit-text-stroke:.25px #fff">There are many of passages</div></div>
<div class="card" style="left:649.9px;top:702.3px;width:222.3px;height:402.3px"><div class="ch" style="height:39.5px;border-bottom:none"><div class="ct" style="top:13.8px">Total Income</div><div class="abs" style="left:181.4px;top:14.4px;width:34px;height:12.2px;border-radius:6.1px;background:#8ab160"></div><div class="t" style="left:187.5px;top:17.3px;font-size:6.8px;color:#fff">Stats</div></div></div>
<div class="t" style="left:649.9px;width:222.3px;text-align:center;top:767.2px;font-size:11.6px;color:#2d3e5f;-webkit-text-stroke:.25px #2d3e5f">Monthly Income</div>
<div class="t" style="left:649.9px;width:222.3px;text-align:center;top:843.2px;font-size:11.4px;color:#2d3e5f;-webkit-text-stroke:.25px #2d3e5f">Taxes info</div>
<div class="abs" style="left:663px;top:835.2px;width:196px;height:0;border-top:1px dotted #eceef2"></div>
<div class="t" style="left:663.5px;width:60px;text-align:center;top:792.1px;font-size:9.6px;font-weight:700;letter-spacing:.25px;color:#172b4c">8952</div>
<div class="t" style="left:663.5px;width:60px;text-align:center;top:806.7px;font-size:7.8px;color:#3a4a6b;-webkit-text-stroke:.15px #3a4a6b">Dubai</div>
<div class="t" style="left:730.9px;width:60px;text-align:center;top:792.1px;font-size:9.6px;font-weight:700;letter-spacing:.25px;color:#172b4c">7458</div>
<div class="t" style="left:730.9px;width:60px;text-align:center;top:806.7px;font-size:7.8px;color:#3a4a6b;-webkit-text-stroke:.15px #3a4a6b">Miami</div>
<div class="t" style="left:797.8px;width:60px;text-align:center;top:792.1px;font-size:9.6px;font-weight:700;letter-spacing:.25px;color:#172b4c">3254</div>
<div class="t" style="left:797.8px;width:60px;text-align:center;top:806.7px;font-size:7.8px;color:#3a4a6b;-webkit-text-stroke:.15px #3a4a6b">London</div>
<div class="t" style="left:663.5px;width:60px;text-align:center;top:867.5px;font-size:9.6px;font-weight:700;letter-spacing:.25px;color:#172b4c">8952</div>
<div class="t" style="left:663.5px;width:60px;text-align:center;top:882.1px;font-size:7.8px;color:#3a4a6b;-webkit-text-stroke:.15px #3a4a6b">Dubai</div>
<div class="t" style="left:730.9px;width:60px;text-align:center;top:867.5px;font-size:9.6px;font-weight:700;letter-spacing:.25px;color:#172b4c">7458</div>
<div class="t" style="left:730.9px;width:60px;text-align:center;top:882.1px;font-size:7.8px;color:#3a4a6b;-webkit-text-stroke:.15px #3a4a6b">Miami</div>
<div class="t" style="left:797.8px;width:60px;text-align:center;top:867.5px;font-size:9.6px;font-weight:700;letter-spacing:.25px;color:#172b4c">3254</div>
<div class="t" style="left:797.8px;width:60px;text-align:center;top:882.1px;font-size:7.8px;color:#3a4a6b;-webkit-text-stroke:.15px #3a4a6b">London</div>
<svg class="abs" style="left:0;top:900px" width="885" height="210" viewBox="0 900 885 210"><defs><linearGradient id="ig" gradientUnits="userSpaceOnUse" x1="0" y1="930" x2="0" y2="1104"><stop offset="0" stop-color="#689f38" stop-opacity=".42"/><stop offset="1" stop-color="#689f38" stop-opacity=".1"/></linearGradient><clipPath id="icp"><path d="M649.9 900H872.2V1102a3 3 0 0 1 -3 3H652.9a3 3 0 0 1 -3 -3Z"/></clipPath></defs><g clip-path="url(#icp)"><path d="M649.9 1047.0 L659.6 1039.1 L669.2 1055.1 L678.9 1008.5 L688.5 1032.1 L698.2 1018.8 L707.8 989.5 L717.5 1020.7 L727.2 1028.0 L736.8 1002.5 L746.5 1039.1 L756.1 981.9 L765.8 1006.3 L775.4 931.2 L785.1 1034.2 L794.8 1024.7 L804.4 1003.6 L814.1 1017.2 L823.7 999.8 L833.4 1034.2 L843.0 1068.7 L852.7 989.0 L862.4 1060.5 L872.0 1054.6 L872.2 1105.2 L649.9 1105.2Z" fill="url(#ig)"/><path d="M649.9 1047.0 L659.6 1039.1 L669.2 1055.1 L678.9 1008.5 L688.5 1032.1 L698.2 1018.8 L707.8 989.5 L717.5 1020.7 L727.2 1028.0 L736.8 1002.5 L746.5 1039.1 L756.1 981.9 L765.8 1006.3 L775.4 931.2 L785.1 1034.2 L794.8 1024.7 L804.4 1003.6 L814.1 1017.2 L823.7 999.8 L833.4 1034.2 L843.0 1068.7 L852.7 989.0 L862.4 1060.5 L872.0 1054.6" fill="none" stroke="#689f38" stroke-width="2.3" stroke-linejoin="miter"/></g></svg>
<div class="card" style="left:179px;top:922.2px;width:281px;height:182.2px"><div class="ch" style="height:39.5px"><div class="ct" style="top:13.8px"><span style="letter-spacing:.1px">Advanced SMIL Animations</span></div></div></div>
<svg class="abs" style="left:0;top:960px" width="885" height="140" viewBox="0 960 885 140">
<path d="M222.5 984.1V1070" stroke="#d4d4d4" stroke-width=".8" stroke-dasharray="1 1.5"/>
<path d="M240.4 984.1V1070" stroke="#d4d4d4" stroke-width=".8" stroke-dasharray="1 1.5"/>
<path d="M258.4 984.1V1070" stroke="#d4d4d4" stroke-width=".8" stroke-dasharray="1 1.5"/>
<path d="M276.3 984.1V1070" stroke="#d4d4d4" stroke-width=".8" stroke-dasharray="1 1.5"/>
<path d="M294.3 984.1V1070" stroke="#d4d4d4" stroke-width=".8" stroke-dasharray="1 1.5"/>
<path d="M312.2 984.1V1070" stroke="#d4d4d4" stroke-width=".8" stroke-dasharray="1 1.5"/>
<path d="M330.1 984.1V1070" stroke="#d4d4d4" stroke-width=".8" stroke-dasharray="1 1.5"/>
<path d="M348.1 984.1V1070" stroke="#d4d4d4" stroke-width=".8" stroke-dasharray="1 1.5"/>
<path d="M366.0 984.1V1070" stroke="#d4d4d4" stroke-width=".8" stroke-dasharray="1 1.5"/>
<path d="M384.0 984.1V1070" stroke="#d4d4d4" stroke-width=".8" stroke-dasharray="1 1.5"/>
<path d="M401.9 984.1V1070" stroke="#d4d4d4" stroke-width=".8" stroke-dasharray="1 1.5"/>
<path d="M419.8 984.1V1070" stroke="#d4d4d4" stroke-width=".8" stroke-dasharray="1 1.5"/>
<path d="M437.8 984.1V1070" stroke="#d4d4d4" stroke-width=".8" stroke-dasharray="1 1.5"/>
<path d="M222.5 984.1H437.8" stroke="#d4d4d4" stroke-width=".8" stroke-dasharray="1 1.5"/>
<text x="217" y="983.8" text-anchor="end" font-size="6.6" fill="#9a9a9a" style="font-family:'Liberation Sans',sans-serif">15</text>
<path d="M222.5 1012.7H437.8" stroke="#d4d4d4" stroke-width=".8" stroke-dasharray="1 1.5"/>
<text x="217" y="1012.4" text-anchor="end" font-size="6.6" fill="#9a9a9a" style="font-family:'Liberation Sans',sans-serif">10</text>
<path d="M222.5 1041.4H437.8" stroke="#d4d4d4" stroke-width=".8" stroke-dasharray="1 1.5"/>
<text x="217" y="1041.1" text-anchor="end" font-size="6.6" fill="#9a9a9a" style="font-family:'Liberation Sans',sans-serif">5</text>
<path d="M222.5 1070H437.8" stroke="#d4d4d4" stroke-width=".8" stroke-dasharray="1 1.5"/>
<text x="217" y="1069.7" text-anchor="end" font-size="6.6" fill="#9a9a9a" style="font-family:'Liberation Sans',sans-serif">0</text>
<text x="223.7" y="1079" font-size="6.6" fill="#9a9a9a" style="font-family:'Liberation Sans',sans-serif">1</text>
<text x="241.6" y="1079" font-size="6.6" fill="#9a9a9a" style="font-family:'Liberation Sans',sans-serif">2</text>
<text x="259.6" y="1079" font-size="6.6" fill="#9a9a9a" style="font-family:'Liberation Sans',sans-serif">3</text>
<text x="277.5" y="1079" font-size="6.6" fill="#9a9a9a" style="font-family:'Liberation Sans',sans-serif">4</text>
<text x="295.5" y="1079" font-size="6.6" fill="#9a9a9a" style="font-family:'Liberation Sans',sans-serif">5</text>
<text x="313.4" y="1079" font-size="6.6" fill="#9a9a9a" style="font-family:'Liberation Sans',sans-serif">6</text>
<text x="331.3" y="1079" font-size="6.6" fill="#9a9a9a" style="font-family:'Liberation Sans',sans-serif">7</text>
<text x="349.3" y="1079" font-size="6.6" fill="#9a9a9a" style="font-family:'Liberation Sans',sans-serif">8</text>
<text x="367.2" y="1079" font-size="6.6" fill="#9a9a9a" style="font-family:'Liberation Sans',sans-serif">9</text>
<text x="385.2" y="1079" font-size="6.6" fill="#9a9a9a" style="font-family:'Liberation Sans',sans-serif">10</text>
<text x="403.1" y="1079" font-size="6.6" fill="#9a9a9a" style="font-family:'Liberation Sans',sans-serif">11</text>
<text x="421.0" y="1079" font-size="6.6" fill="#9a9a9a" style="font-family:'Liberation Sans',sans-serif">12</text>
<path d="M222.5 1001.3 C225.5 1004.1 234.5 1013.7 240.4 1018.5 C246.4 1023.2 252.4 1029.0 258.4 1029.9 C264.4 1030.9 270.3 1022.3 276.3 1024.2 C282.3 1026.1 288.3 1037.5 294.3 1041.4 C300.2 1045.2 306.2 1048.0 312.2 1047.1 C318.2 1046.1 324.2 1033.7 330.1 1035.6 C336.1 1037.5 342.1 1055.7 348.1 1058.5 C354.1 1061.4 360.0 1053.8 366.0 1052.8 C372.0 1051.9 378.0 1053.8 384.0 1052.8 C389.9 1051.9 395.9 1050.0 401.9 1047.1 C407.9 1044.2 416.9 1037.5 419.8 1035.6" fill="none" stroke="#d3dffa" stroke-width="2.5"/>
<circle cx="222.5" cy="1047.1" r="3" fill="#a6b4c8"/>
<circle cx="240.4" cy="1041.4" r="3" fill="#a6b4c8"/>
<circle cx="258.4" cy="1052.8" r="3" fill="#a6b4c8"/>
<circle cx="276.3" cy="1029.9" r="3" fill="#a6b4c8"/>
<circle cx="294.3" cy="1052.8" r="3" fill="#a6b4c8"/>
<circle cx="312.2" cy="1041.4" r="3" fill="#a6b4c8"/>
<circle cx="330.1" cy="1041.4" r="3" fill="#a6b4c8"/>
<circle cx="348.1" cy="1052.8" r="3" fill="#a6b4c8"/>
<circle cx="366.0" cy="1047.1" r="3" fill="#a6b4c8"/>
<circle cx="384.0" cy="1047.1" r="3" fill="#a6b4c8"/>
<circle cx="401.9" cy="1041.4" r="3" fill="#a6b4c8"/>
<circle cx="419.8" cy="1041.4" r="3" fill="#a6b4c8"/>
<circle cx="222.5" cy="1001.3" r="3.2" fill="#2f6fe8"/>
<circle cx="240.4" cy="1018.5" r="3.2" fill="#2f6fe8"/>
<circle cx="258.4" cy="1029.9" r="3.2" fill="#2f6fe8"/>
<circle cx="276.3" cy="1024.2" r="3.2" fill="#2f6fe8"/>
<circle cx="294.3" cy="1041.4" r="3.2" fill="#2f6fe8"/>
<circle cx="312.2" cy="1047.1" r="3.2" fill="#2f6fe8"/>
<circle cx="330.1" cy="1035.6" r="3.2" fill="#2f6fe8"/>
<circle cx="348.1" cy="1058.5" r="3.2" fill="#2f6fe8"/>
<circle cx="366.0" cy="1052.8" r="3.2" fill="#2f6fe8"/>
<circle cx="384.0" cy="1052.8" r="3.2" fill="#2f6fe8"/>
<circle cx="401.9" cy="1047.1" r="3.2" fill="#2f6fe8"/>
<circle cx="419.8" cy="1035.6" r="3.2" fill="#2f6fe8"/>
</svg>
<div class="card" style="left:473.9px;top:849.6px;width:163.2px;height:254.2px;overflow:hidden"><svg class="abs" style="left:0;top:0" width="163.2" height="153" viewBox="0 0 163.2 153"><defs><filter id="pb" x="-5%" y="-5%" width="110%" height="110%"><feGaussianBlur stdDeviation="1.3"/></filter><filter id="pb2" x="-5%" y="-5%" width="110%" height="110%"><feGaussianBlur stdDeviation=".55"/></filter><linearGradient id="fld" x1="0" y1="0" x2="1" y2="0"><stop offset="0" stop-color="#b58c66"/><stop offset=".45" stop-color="#b5835a"/><stop offset="1" stop-color="#bf804e"/></linearGradient><linearGradient id="fld2" x1="0" y1="0" x2="0" y2="1"><stop offset="0" stop-color="#5a3a20" stop-opacity=".25"/><stop offset=".4" stop-color="#000" stop-opacity="0"/><stop offset="1" stop-color="#4a3020" stop-opacity=".3"/></linearGradient><clipPath id="pcl"><rect width="163.2" height="153"/></clipPath></defs><g clip-path="url(#pcl)"><rect width="163.2" height="153" fill="#d8d4cd"/><g filter="url(#pb)"><path d="M-5 16C6 8 16 10 26 14C36 8 50 6 60 12C70 16 82 12 92 16C100 18 108 22 116 26C126 30 140 30 150 34L170 38V92H-5Z" fill="#2e2e1c"/><path d="M-5 34C20 30 44 36 64 44C70 56 62 74 50 86H-5Z" fill="#1f2216"/><path d="M-2 12C6 24 12 44 16 66L8 82L-5 70Z" fill="#6e5a40" opacity=".75"/><path d="M20 20C26 34 30 50 30 66L24 70C24 54 20 36 14 24Z" fill="#6a543a" opacity=".5"/><path d="M108 32C125 30 150 36 170 42V88H108Z" fill="#3a3020"/><path d="M128 34C138 28 150 32 160 42C166 58 158 74 140 82C128 74 122 54 128 34Z" fill="#a3653a" opacity=".9"/><path d="M-5 84C20 78 50 82 80 80C110 78 140 74 170 72V160H-5Z" fill="url(#fld)"/><path d="M-5 104C20 98 44 102 62 108V160H-5Z" fill="#c2a488" opacity=".7"/><path d="M118 62C135 60 150 64 170 68V160H116Z" fill="#c48650" opacity=".65"/><rect x="-5" y="80" width="175" height="80" fill="url(#fld2)"/></g><g filter="url(#pb2)"><path d="M150.6 105.3L147.5 73.1" stroke="#9a7450" stroke-width=".9" opacity="0.44"/><path d="M10.3 56.8L5.6 11.1" stroke="#9a7450" stroke-width=".7" opacity="0.40"/><path d="M38.1 62.5L37.7 48.4" stroke="#8a6a48" stroke-width=".7" opacity="0.42"/><path d="M13.6 83.9L11.5 42.6" stroke="#9a7450" stroke-width=".5" opacity="0.47"/><path d="M17.6 46L22.2 21.5" stroke="#8a6a48" stroke-width=".9" opacity="0.30"/><path d="M34.2 168L33.2 137.1" stroke="#5a4430" stroke-width=".5" opacity="0.47"/><path d="M32.4 129.3L30.7 103.2" stroke="#6a4a30" stroke-width=".7" opacity="0.53"/><path d="M19.2 59.1L18.9 41.5" stroke="#8a6a48" stroke-width=".7" opacity="0.35"/><path d="M31.1 130.1L29.9 111.4" stroke="#5a4430" stroke-width=".7" opacity="0.43"/><path d="M34.7 93.8L32.7 44.9" stroke="#9a7450" stroke-width=".5" opacity="0.36"/><path d="M161.3 60L159.5 36.7" stroke="#9a7450" stroke-width=".7" opacity="0.42"/><path d="M12.1 73L13.1 36.1" stroke="#8a6a48" stroke-width=".7" opacity="0.49"/><path d="M20.7 134.5L24.4 90.6" stroke="#cfae8a" stroke-width=".5" opacity="0.49"/><path d="M25.8 130.5L30.3 96.6" stroke="#5a4430" stroke-width=".7" opacity="0.48"/><path d="M6.3 167.2L5.2 144.6" stroke="#5a4430" stroke-width=".7" opacity="0.55"/><path d="M28.6 126.2L28.4 109.7" stroke="#cfae8a" stroke-width=".9" opacity="0.56"/><path d="M149.5 50L148.6 35.4" stroke="#6a4a30" stroke-width=".5" opacity="0.32"/><path d="M28.7 93.7L24.7 59.1" stroke="#cfae8a" stroke-width=".5" opacity="0.57"/><path d="M159.8 139.5L164.3 100.6" stroke="#9a7450" stroke-width=".9" opacity="0.31"/><path d="M2.9 176.3L-1.9 137.1" stroke="#8a6a48" stroke-width=".9" opacity="0.32"/><path d="M11 69.7L6.7 50.8" stroke="#8a6a48" stroke-width=".9" opacity="0.41"/><path d="M7.2 181.4L10.2 140.8" stroke="#cfae8a" stroke-width=".7" opacity="0.41"/><path d="M142 108.5L142.7 66.1" stroke="#e0c8ac" stroke-width=".9" opacity="0.50"/><path d="M61.8 24.4L63.2 7.8" stroke="#8a6a48" stroke-width=".7" opacity="0.56"/><path d="M13.7 129.1L9.5 114" stroke="#9a7450" stroke-width=".5" opacity="0.37"/><path d="M41.7 32.5L42.8 7.6" stroke="#5a4430" stroke-width=".9" opacity="0.35"/><path d="M147.6 130.9L145.9 101" stroke="#cfae8a" stroke-width=".9" opacity="0.38"/><path d="M34.9 84.8L31.3 37.6" stroke="#cfae8a" stroke-width=".7" opacity="0.41"/><path d="M146 28.2L149.2 11.8" stroke="#6a4a30" stroke-width=".5" opacity="0.44"/><path d="M44.9 65.7L45.1 36.8" stroke="#5a4430" stroke-width=".9" opacity="0.39"/><path d="M136.8 177.7L140.1 147.4" stroke="#8a6a48" stroke-width=".7" opacity="0.56"/><path d="M6.8 142.6L8.3 108" stroke="#6a4a30" stroke-width=".9" opacity="0.31"/><path d="M22.1 86.4L19.5 71.5" stroke="#6a4a30" stroke-width=".5" opacity="0.54"/><path d="M160.4 40.5L161.9 22.6" stroke="#9a7450" stroke-width=".7" opacity="0.59"/><path d="M1.8 113.7L-1 74" stroke="#cfae8a" stroke-width=".7" opacity="0.46"/><path d="M154.3 127.9L153.3 78.1" stroke="#cfae8a" stroke-width=".9" opacity="0.57"/><path d="M14.2 180.3L13.7 140.3" stroke="#cfae8a" stroke-width=".5" opacity="0.49"/><path d="M148.3 94.7L151.3 60.3" stroke="#9a7450" stroke-width=".7" opacity="0.44"/><path d="M34.8 184.9L35.1 135.6" stroke="#6a4a30" stroke-width=".7" opacity="0.38"/><path d="M117.1 40.4L116.5 8.3" stroke="#8a6a48" stroke-width=".9" opacity="0.43"/><path d="M44.9 160.3L44.2 138.4" stroke="#8a6a48" stroke-width=".5" opacity="0.35"/><path d="M22.9 60L23.1 27.4" stroke="#5a4430" stroke-width=".9" opacity="0.51"/><path d="M154.2 125.1L156.7 76.9" stroke="#8a6a48" stroke-width=".7" opacity="0.46"/><path d="M137.5 111.9L142.1 86.6" stroke="#e0c8ac" stroke-width=".9" opacity="0.36"/><path d="M138.7 178.3L138.7 145.5" stroke="#9a7450" stroke-width=".7" opacity="0.46"/><path d="M4.5 178.2L5 145.6" stroke="#e0c8ac" stroke-width=".9" opacity="0.34"/><path d="M15.2 77.5L14.3 30" stroke="#e0c8ac" stroke-width=".7" opacity="0.38"/><path d="M146.8 100L146 74.6" stroke="#cfae8a" stroke-width=".5" opacity="0.58"/><path d="M21.1 133L17.7 118.2" stroke="#cfae8a" stroke-width=".5" opacity="0.51"/><path d="M32.2 112.1L33.6 82.4" stroke="#e0c8ac" stroke-width=".9" opacity="0.48"/><path d="M35.2 119.3L32.6 84.2" stroke="#cfae8a" stroke-width=".9" opacity="0.49"/><path d="M31.7 139.1L28.1 118.1" stroke="#8a6a48" stroke-width=".5" opacity="0.34"/><path d="M14.4 91.5L14.8 61.9" stroke="#e0c8ac" stroke-width=".9" opacity="0.34"/><path d="M2.9 73.5L-1 34.9" stroke="#6a4a30" stroke-width=".9" opacity="0.49"/><path d="M135.8 153L131.1 121.6" stroke="#8a6a48" stroke-width=".9" opacity="0.48"/><path d="M147.5 96.1L144.6 75.3" stroke="#8a6a48" stroke-width=".5" opacity="0.60"/><path d="M151.1 35.9L150.7 19.7" stroke="#5a4430" stroke-width=".5" opacity="0.40"/><path d="M2.2 151.3L1.2 106.9" stroke="#cfae8a" stroke-width=".7" opacity="0.52"/><path d="M26.9 94.4L29.9 79.8" stroke="#8a6a48" stroke-width=".9" opacity="0.56"/><path d="M148.1 175.8L148.2 141.3" stroke="#cfae8a" stroke-width=".7" opacity="0.54"/><circle cx="42.1" cy="142.1" r="1.3" fill="#d8c2a8" opacity="0.77"/><circle cx="143.4" cy="115.5" r="1.4" fill="#d8c2a8" opacity="0.58"/><circle cx="1.7" cy="73.7" r="1.2" fill="#e9d8c4" opacity="0.42"/><circle cx="44.5" cy="148.3" r="0.9" fill="#d8c2a8" opacity="0.70"/><circle cx="3.7" cy="105.7" r="1.3" fill="#efe2d2" opacity="0.60"/><circle cx="42.1" cy="63.9" r="0.9" fill="#e9d8c4" opacity="0.63"/><circle cx="157.6" cy="99.9" r="1.6" fill="#cdb498" opacity="0.76"/><circle cx="12.4" cy="103.5" r="1.4" fill="#e6d4c0" opacity="0.57"/><circle cx="153" cy="77.5" r="1.6" fill="#cdb498" opacity="0.64"/><circle cx="44" cy="144.3" r="1.3" fill="#efe2d2" opacity="0.41"/><circle cx="36.5" cy="118.5" r="0.9" fill="#d8c2a8" opacity="0.42"/><circle cx="16.1" cy="129.7" r="1.5" fill="#d8c2a8" opacity="0.84"/><circle cx="133.1" cy="104.2" r="0.7" fill="#e9d8c4" opacity="0.59"/><circle cx="19.2" cy="135.9" r="1" fill="#d8c2a8" opacity="0.46"/><circle cx="162.6" cy="147.2" r="1.3" fill="#d8c2a8" opacity="0.62"/><circle cx="44.8" cy="105" r="1.3" fill="#e9d8c4" opacity="0.49"/><circle cx="45.4" cy="59.5" r="1.6" fill="#e9d8c4" opacity="0.84"/><circle cx="149.3" cy="138.1" r="0.6" fill="#e6d4c0" opacity="0.40"/><circle cx="42.3" cy="33.3" r="0.6" fill="#d8c2a8" opacity="0.64"/><circle cx="11.8" cy="40.6" r="1.3" fill="#e9d8c4" opacity="0.51"/><circle cx="160" cy="89.5" r="1" fill="#efe2d2" opacity="0.55"/><circle cx="12.1" cy="44.7" r="1.4" fill="#e9d8c4" opacity="0.78"/><circle cx="24.6" cy="48.9" r="1.4" fill="#e9d8c4" opacity="0.55"/><circle cx="150.1" cy="82.6" r="1" fill="#e6d4c0" opacity="0.61"/><circle cx="132.9" cy="87" r="1.4" fill="#e6d4c0" opacity="0.43"/><circle cx="34.8" cy="111.4" r="0.7" fill="#efe2d2" opacity="0.62"/><circle cx="143.7" cy="56.9" r="1.3" fill="#efe2d2" opacity="0.56"/><circle cx="19.1" cy="117.2" r="1.2" fill="#efe2d2" opacity="0.60"/><circle cx="130.9" cy="67.5" r="0.9" fill="#cdb498" opacity="0.84"/><circle cx="13.7" cy="131.9" r="0.6" fill="#cdb498" opacity="0.66"/><circle cx="129.8" cy="120.9" r="1" fill="#cdb498" opacity="0.64"/><circle cx="136.3" cy="99.2" r="0.8" fill="#cdb498" opacity="0.80"/><circle cx="45.9" cy="32.7" r="1.1" fill="#e9d8c4" opacity="0.47"/><circle cx="137.2" cy="82" r="1.2" fill="#efe2d2" opacity="0.75"/><circle cx="13.7" cy="40" r="1.3" fill="#efe2d2" opacity="0.44"/><circle cx="40" cy="57.1" r="1.4" fill="#e9d8c4" opacity="0.55"/><circle cx="131.6" cy="71" r="0.7" fill="#cdb498" opacity="0.64"/><circle cx="149.1" cy="80.5" r="1.4" fill="#efe2d2" opacity="0.78"/><circle cx="131.4" cy="132.6" r="1.5" fill="#e9d8c4" opacity="0.69"/><circle cx="130.8" cy="81.9" r="1" fill="#d8c2a8" opacity="0.51"/><circle cx="26.4" cy="108.1" r="1.3" fill="#efe2d2" opacity="0.49"/><circle cx="158.1" cy="37.3" r="0.9" fill="#e6d4c0" opacity="0.54"/><circle cx="25.3" cy="143.1" r="1.5" fill="#cdb498" opacity="0.41"/><circle cx="145.8" cy="79.5" r="1.5" fill="#efe2d2" opacity="0.68"/><circle cx="153.5" cy="97.7" r="1.5" fill="#cdb498" opacity="0.80"/><circle cx="149" cy="72.1" r="1.1" fill="#e6d4c0" opacity="0.62"/><circle cx="36" cy="36.1" r="1.5" fill="#cdb498" opacity="0.84"/><circle cx="129.5" cy="125.2" r="1.4" fill="#e6d4c0" opacity="0.70"/><circle cx="38.7" cy="31.3" r="1.1" fill="#efe2d2" opacity="0.60"/><circle cx="40.2" cy="81.8" r="1.5" fill="#cdb498" opacity="0.47"/><circle cx="141.7" cy="93.5" r="1.2" fill="#e9d8c4" opacity="0.52"/><circle cx="133.9" cy="134.1" r="1.4" fill="#e6d4c0" opacity="0.56"/><circle cx="145" cy="115.3" r="0.7" fill="#e9d8c4" opacity="0.64"/><circle cx="30.6" cy="53.7" r="1.3" fill="#cdb498" opacity="0.49"/><circle cx="25.7" cy="132.3" r="0.9" fill="#efe2d2" opacity="0.58"/><circle cx="12.1" cy="47.3" r="1.3" fill="#cdb498" opacity="0.74"/><circle cx="127.9" cy="45" r="1" fill="#cdb498" opacity="0.72"/><circle cx="18.5" cy="124.9" r="1.5" fill="#d8c2a8" opacity="0.81"/><circle cx="24.8" cy="107.2" r="1.5" fill="#efe2d2" opacity="0.83"/><circle cx="14.2" cy="53.2" r="1" fill="#e6d4c0" opacity="0.55"/><circle cx="154" cy="99.2" r="1.3" fill="#efe2d2" opacity="0.60"/><circle cx="31.5" cy="34.5" r="1.1" fill="#e6d4c0" opacity="0.45"/><circle cx="5.3" cy="151.5" r="1" fill="#e6d4c0" opacity="0.55"/><circle cx="134.2" cy="144" r="0.7" fill="#d8c2a8" opacity="0.75"/><circle cx="133.8" cy="77.5" r="0.9" fill="#cdb498" opacity="0.68"/><circle cx="39.9" cy="151.2" r="1.1" fill="#efe2d2" opacity="0.55"/><circle cx="17.3" cy="76.4" r="1.1" fill="#efe2d2" opacity="0.77"/><circle cx="136.2" cy="54.3" r="1.5" fill="#d8c2a8" opacity="0.75"/><circle cx="22.2" cy="88.8" r="1" fill="#efe2d2" opacity="0.55"/><circle cx="151.4" cy="74.4" r="1.1" fill="#e6d4c0" opacity="0.60"/><circle cx="10.4" cy="142.6" r="0.8" fill="#efe2d2" opacity="0.67"/><circle cx="20" cy="131.4" r="0.9" fill="#efe2d2" opacity="0.51"/><circle cx="30.2" cy="97.4" r="0.7" fill="#e6d4c0" opacity="0.58"/><circle cx="127.6" cy="144.4" r="1.6" fill="#d8c2a8" opacity="0.54"/><circle cx="131" cy="32" r="0.8" fill="#cdb498" opacity="0.41"/><circle cx="21.4" cy="60" r="1.5" fill="#e6d4c0" opacity="0.69"/><circle cx="6.2" cy="112.5" r="0.7" fill="#cdb498" opacity="0.67"/><circle cx="136.6" cy="135.2" r="1" fill="#cdb498" opacity="0.45"/><circle cx="18.7" cy="145.5" r="0.9" fill="#e9d8c4" opacity="0.59"/><circle cx="147.4" cy="69.4" r="0.7" fill="#e9d8c4" opacity="0.81"/><circle cx="20.3" cy="85" r="1.1" fill="#cdb498" opacity="0.84"/><circle cx="148.3" cy="97" r="1.3" fill="#d8c2a8" opacity="0.80"/><circle cx="162.9" cy="119.9" r="1.5" fill="#efe2d2" opacity="0.79"/><circle cx="36.2" cy="121.8" r="1.2" fill="#e6d4c0" opacity="0.44"/><circle cx="129.2" cy="45.2" r="1.1" fill="#cdb498" opacity="0.40"/><circle cx="39.8" cy="66.8" r="0.9" fill="#e6d4c0" opacity="0.60"/><circle cx="23" cy="115.2" r="0.8" fill="#efe2d2" opacity="0.41"/><circle cx="146.5" cy="67.9" r="1.1" fill="#cdb498" opacity="0.80"/><circle cx="33" cy="135.7" r="1.3" fill="#e6d4c0" opacity="0.49"/><circle cx="136.6" cy="73.6" r="1.1" fill="#d8c2a8" opacity="0.69"/><circle cx="154.8" cy="150.1" r="1.3" fill="#efe2d2" opacity="0.73"/><circle cx="141.7" cy="117.7" r="0.7" fill="#cdb498" opacity="0.59"/><circle cx="27.6" cy="136" r="0.7" fill="#d8c2a8" opacity="0.52"/><circle cx="131" cy="94.5" r="0.7" fill="#e9d8c4" opacity="0.50"/><circle cx="160.2" cy="84.2" r="1.1" fill="#e9d8c4" opacity="0.81"/><circle cx="1.1" cy="102.1" r="1.1" fill="#cdb498" opacity="0.76"/><circle cx="14.2" cy="65.1" r="1.4" fill="#d8c2a8" opacity="0.48"/><circle cx="128.8" cy="48.5" r="1.5" fill="#e9d8c4" opacity="0.61"/><circle cx="151.5" cy="91.5" r="0.8" fill="#e9d8c4" opacity="0.75"/><circle cx="148.3" cy="69.5" r="1.1" fill="#e6d4c0" opacity="0.63"/><circle cx="155.1" cy="51.4" r="1.4" fill="#d8c2a8" opacity="0.45"/><circle cx="42.3" cy="96.9" r="1.5" fill="#e9d8c4" opacity="0.62"/><circle cx="5.8" cy="103.4" r="1.3" fill="#e9d8c4" opacity="0.60"/><circle cx="143.5" cy="70" r="1.2" fill="#e9d8c4" opacity="0.62"/><circle cx="42.9" cy="128.2" r="0.7" fill="#d8c2a8" opacity="0.66"/><circle cx="38.8" cy="48" r="0.9" fill="#e6d4c0" opacity="0.71"/><circle cx="133.6" cy="120.8" r="1.4" fill="#e9d8c4" opacity="0.62"/><circle cx="156" cy="45.8" r="1.4" fill="#e9d8c4" opacity="0.84"/><circle cx="23.6" cy="86" r="1.3" fill="#e6d4c0" opacity="0.40"/><circle cx="14.9" cy="98.4" r="1.1" fill="#e6d4c0" opacity="0.84"/><circle cx="159.1" cy="105.3" r="0.9" fill="#e6d4c0" opacity="0.65"/></g><g filter="url(#pb2)"><path d="M41 153C41 136 43 124 49 118C57 112 67 109 71 101L79 90H93L101 98C105 106 117 110 123 116C127 124 126 140 126 153Z" fill="#1f231c"/><path d="M77 84H95L96 100L98 130L85 134L77 112Z" fill="#a66a4a"/><path d="M79 128C86 132 94 132 101 128L102 153H80Z" fill="#3a1f1c"/><circle cx="86" cy="140" r="4" fill="#a23c2c"/><circle cx="96" cy="135" r="3" fill="#cbb8a6"/><circle cx="92" cy="148" r="3.5" fill="#96382a"/><circle cx="83" cy="132" r="2" fill="#d9c9b8"/><circle cx="99" cy="146" r="2.5" fill="#2e3a2a"/><path d="M70 98L80 89L85 120L78 134L66 112Z" fill="#161914"/><path d="M100 96L93 89L98 128L105 134L113 110Z" fill="#161914"/><circle cx="52" cy="128" r="4.5" fill="#8a3a30" opacity=".8"/><circle cx="56" cy="134" r="3" fill="#cdbdad" opacity=".7"/><circle cx="48" cy="136" r="2.5" fill="#c9b7a6" opacity=".6"/><circle cx="109" cy="106" r="4" fill="#a84a38" opacity=".85"/><circle cx="114" cy="112" r="2.5" fill="#d9cbbd" opacity=".7"/><circle cx="120" cy="128" r="3" fill="#8a7a70" opacity=".6"/><circle cx="112" cy="140" r="3" fill="#7a342a" opacity=".6"/><path d="M62 60C58 40 66 22 84 19.5C101 19 108 34 105.5 56C104.5 66 102.5 72 98 76L70 78C66 72 63 66 62 60Z" fill="#1b231e"/><path d="M73 52C75 42 84 38 93 43C99.5 48 101 60 99.5 70C97.5 82 92 91 85.5 91C78.5 91 74 82 73 72Z" fill="#b57855"/><path d="M87 45C95 43 100 49 100 60C100 72 96 86 88 90C94 80 93 60 87 45Z" fill="#855033" opacity=".55"/><path d="M73 70C74 80 79 90 85.5 91C80 86 76 78 75 68Z" fill="#8a5436" opacity=".5"/><path d="M65.5 64C63.5 50 68 37 80 30C87 30 92 34 95 40C87 41 80.5 47 78 56C76.5 64 76 71 72.5 76C69 74 66.5 70 65.5 64Z" fill="#c2a88e"/><path d="M80 30C85 32 87 36 86.5 41C82 45 78.5 50 78 56C76.5 48 77 38 80 30Z" fill="#9a8068" opacity=".6"/><path d="M77 57C79 55.5 81.5 55.5 83.5 56.5M90 56.5C92 55.5 94.5 55.5 96 57" stroke="#2a1a12" stroke-width="1.5" fill="none"/><ellipse cx="80.3" cy="60.3" rx="2.3" ry="1.3" fill="#24150f"/><ellipse cx="93" cy="60.3" rx="2.1" ry="1.3" fill="#24150f"/><path d="M81.5 78.3C84.5 79.5 88.5 79.5 91.5 78" stroke="#74302a" stroke-width="1.7" fill="none" stroke-linecap="round"/><path d="M86 62L85 71C86 72.2 88.5 72.2 89.5 71" stroke="#8a5234" stroke-width="1" fill="none"/></g></g></svg><div class="t" style="left:0;width:163.2px;text-align:center;top:167.6px;font-size:11.7px;color:#3b4a6b;-webkit-text-stroke:.3px #3b4a6b">Blog title</div><div class="t" style="left:0;width:163.2px;text-align:center;top:190.8px;font-size:8.75px;color:#3a4a6b;-webkit-text-stroke:.15px #3a4a6b">Some quick example text to build</div><div class="t" style="left:0;width:163.2px;text-align:center;top:203.9px;font-size:8.75px;color:#3a4a6b;-webkit-text-stroke:.15px #3a4a6b">on the card title and card's content.</div><div class="abs" style="left:55.2px;top:223.3px;width:52.9px;height:18.3px;border-radius:9.2px;background:#689f38"></div><div class="t" style="left:55.2px;width:52.9px;text-align:center;top:228.5px;font-size:7.8px;color:#fff">Read more</div></div>
<div class="card" style="left:179px;top:1118.3px;width:340.2px;height:328.4px"><div class="ch" style="height:57.3px"><div class="ct" style="top:14.0px"><span style="-webkit-text-stroke:.3px #172b4c">Product Sales</span></div><div class="t" style="left:12.9px;top:33.8px;font-size:8.6px;color:#2d3e6b;-webkit-text-stroke:.15px #2d3e6b">Overview of Latest Month</div></div></div>
<svg class="abs" style="left:0;top:1180px" width="885" height="270" viewBox="0 1180 885 270">
<path d="M212.4 1388.3H477.6" stroke="#e6e6e6" stroke-width="1"/>
<path d="M212.4 1361.3H477.6" stroke="#e6e6e6" stroke-width="1"/>
<path d="M212.4 1334.2H477.6" stroke="#e6e6e6" stroke-width="1"/>
<path d="M212.4 1307.2H477.6" stroke="#e6e6e6" stroke-width="1"/>
<path d="M212.4 1280.2H477.6" stroke="#e6e6e6" stroke-width="1"/>
<path d="M212.4 1253.2H477.6" stroke="#e6e6e6" stroke-width="1"/>
<path d="M212.4 1226.2H477.6" stroke="#e6e6e6" stroke-width="1"/>
<path d="M209.5 1415.3H212.4" stroke="#444" stroke-width=".8"/>
<text x="207.3" y="1417.6" text-anchor="end" font-size="8" fill="#333" style="font-family:'Liberation Sans',sans-serif">0</text>
<path d="M209.5 1388.3H212.4" stroke="#444" stroke-width=".8"/>
<text x="207.3" y="1390.6" text-anchor="end" font-size="8" fill="#333" style="font-family:'Liberation Sans',sans-serif">30</text>
<path d="M209.5 1361.3H212.4" stroke="#444" stroke-width=".8"/>
<text x="207.3" y="1363.6" text-anchor="end" font-size="8" fill="#333" style="font-family:'Liberation Sans',sans-serif">60</text>
<path d="M209.5 1334.2H212.4" stroke="#444" stroke-width=".8"/>
<text x="207.3" y="1336.5" text-anchor="end" font-size="8" fill="#333" style="font-family:'Liberation Sans',sans-serif">90</text>
<path d="M209.5 1307.2H212.4" stroke="#444" stroke-width=".8"/>
<text x="207.3" y="1309.5" text-anchor="end" font-size="8" fill="#333" style="font-family:'Liberation Sans',sans-serif">120</text>
<path d="M209.5 1280.2H212.4" stroke="#444" stroke-width=".8"/>
<text x="207.3" y="1282.5" text-anchor="end" font-size="8" fill="#333" style="font-family:'Liberation Sans',sans-serif">150</text>
<path d="M209.5 1253.2H212.4" stroke="#444" stroke-width=".8"/>
<text x="207.3" y="1255.5" text-anchor="end" font-size="8" fill="#333" style="font-family:'Liberation Sans',sans-serif">180</text>
<path d="M209.5 1226.2H212.4" stroke="#444" stroke-width=".8"/>
<text x="207.3" y="1228.5" text-anchor="end" font-size="8" fill="#333" style="font-family:'Liberation Sans',sans-serif">210</text>
<rect x="215.1" y="1408.6" width="7.5" height="6.7" fill="#689f38"/>
<rect x="224.9" y="1397.6" width="7.5" height="17.7" fill="#38a39b"/>
<text x="223.5" y="1426.3" text-anchor="middle" font-size="8" fill="#333" style="font-family:'Liberation Sans',sans-serif">Jan</text>
<rect x="237.1" y="1410.4" width="7.5" height="4.9" fill="#689f38"/>
<rect x="246.9" y="1408.2" width="7.5" height="7.1" fill="#38a39b"/>
<text x="245.6" y="1426.3" text-anchor="middle" font-size="8" fill="#333" style="font-family:'Liberation Sans',sans-serif">Feb</text>
<rect x="259.1" y="1409.6" width="7.5" height="5.7" fill="#689f38"/>
<rect x="268.9" y="1407.2" width="7.5" height="8.1" fill="#38a39b"/>
<text x="267.7" y="1426.3" text-anchor="middle" font-size="8" fill="#333" style="font-family:'Liberation Sans',sans-serif">Mar</text>
<rect x="281.1" y="1386.2" width="7.5" height="29.1" fill="#689f38"/>
<rect x="290.9" y="1390.1" width="7.5" height="25.2" fill="#38a39b"/>
<text x="289.8" y="1426.3" text-anchor="middle" font-size="8" fill="#333" style="font-family:'Liberation Sans',sans-serif">Apr</text>
<rect x="303.1" y="1394.4" width="7.5" height="20.9" fill="#689f38"/>
<rect x="312.9" y="1392.7" width="7.5" height="22.6" fill="#38a39b"/>
<text x="311.9" y="1426.3" text-anchor="middle" font-size="8" fill="#333" style="font-family:'Liberation Sans',sans-serif">May</text>
<rect x="325.1" y="1334.6" width="7.5" height="80.7" fill="#689f38"/>
<rect x="334.9" y="1335.8" width="7.5" height="79.5" fill="#38a39b"/>
<text x="333.9" y="1426.3" text-anchor="middle" font-size="8" fill="#333" style="font-family:'Liberation Sans',sans-serif">Jun</text>
<rect x="347.1" y="1272.1" width="7.5" height="143.2" fill="#689f38"/>
<rect x="356.9" y="1263.8" width="7.5" height="151.5" fill="#38a39b"/>
<text x="356.1" y="1426.3" text-anchor="middle" font-size="8" fill="#333" style="font-family:'Liberation Sans',sans-serif">July</text>
<rect x="369.1" y="1254.4" width="7.5" height="160.9" fill="#689f38"/>
<rect x="378.9" y="1236.9" width="7.5" height="178.4" fill="#38a39b"/>
<text x="378.2" y="1426.3" text-anchor="middle" font-size="8" fill="#333" style="font-family:'Liberation Sans',sans-serif">Aug</text>
<rect x="391.1" y="1381.9" width="7.5" height="33.4" fill="#689f38"/>
<rect x="400.9" y="1372.6" width="7.5" height="42.7" fill="#38a39b"/>
<text x="400.3" y="1426.3" text-anchor="middle" font-size="8" fill="#333" style="font-family:'Liberation Sans',sans-serif">Sept</text>
<rect x="413.1" y="1394.6" width="7.5" height="20.7" fill="#689f38"/>
<rect x="422.9" y="1399.8" width="7.5" height="15.5" fill="#38a39b"/>
<text x="422.4" y="1426.3" text-anchor="middle" font-size="8" fill="#333" style="font-family:'Liberation Sans',sans-serif">Oct</text>
<rect x="435.1" y="1408.8" width="7.5" height="6.5" fill="#689f38"/>
<rect x="444.9" y="1408.8" width="7.5" height="6.5" fill="#38a39b"/>
<text x="444.4" y="1426.3" text-anchor="middle" font-size="8" fill="#333" style="font-family:'Liberation Sans',sans-serif">Nov</text>
<rect x="457.1" y="1406.6" width="7.5" height="8.7" fill="#689f38"/>
<rect x="466.9" y="1413.9" width="7.5" height="1.4" fill="#38a39b"/>
<text x="466.6" y="1426.3" text-anchor="middle" font-size="8" fill="#333" style="font-family:'Liberation Sans',sans-serif">Dec</text>
<path d="M212.4 1415.3V1417.8" stroke="#444" stroke-width=".8"/>
<path d="M234.5 1415.3V1417.8" stroke="#444" stroke-width=".8"/>
<path d="M256.6 1415.3V1417.8" stroke="#444" stroke-width=".8"/>
<path d="M278.7 1415.3V1417.8" stroke="#444" stroke-width=".8"/>
<path d="M300.8 1415.3V1417.8" stroke="#444" stroke-width=".8"/>
<path d="M322.9 1415.3V1417.8" stroke="#444" stroke-width=".8"/>
<path d="M345.0 1415.3V1417.8" stroke="#444" stroke-width=".8"/>
<path d="M367.1 1415.3V1417.8" stroke="#444" stroke-width=".8"/>
<path d="M389.2 1415.3V1417.8" stroke="#444" stroke-width=".8"/>
<path d="M411.3 1415.3V1417.8" stroke="#444" stroke-width=".8"/>
<path d="M433.4 1415.3V1417.8" stroke="#444" stroke-width=".8"/>
<path d="M455.5 1415.3V1417.8" stroke="#444" stroke-width=".8"/>
<path d="M477.6 1415.3V1417.8" stroke="#444" stroke-width=".8"/>
<path d="M212.4 1225.8V1415.3H477.6" stroke="#444" stroke-width=".8" fill="none"/>
<path d="M212.4 1368.8H470" stroke="#38a39b" stroke-width=".9" stroke-dasharray="2.2 2.2" opacity=".85"/>
<path d="M212.4 1371.7H470" stroke="#689f38" stroke-width=".9" stroke-dasharray="2.2 2.2" opacity=".85"/>
<circle cx="212.4" cy="1368.8" r="2.2" fill="#38a39b"/><circle cx="212.4" cy="1371.7" r="2.2" fill="#689f38"/>
<path d="M477.5 1368.8L468 1365.8L470.5 1368.8L468 1371.8Z" fill="#38a39b"/><path d="M477.5 1371.7L468 1368.7L470.5 1371.7L468 1374.7Z" fill="#689f38"/>
<text x="480.3" y="1371.3" font-size="7" fill="#38a39b" style="font-family:'Liberation Sans',sans-serif">5</text>
<path d="M240.5 1407.9L234.8 1400.5A9.3 9.3 0 1 1 246.2 1400.5Z" fill="#689f38"/><text x="240.5" y="1395.8" text-anchor="middle" font-size="7.3" fill="#fff" style="font-family:'Liberation Sans',sans-serif">5.3</text>
<path d="M372.9 1252.6L367.1 1245.1A9.5 9.5 0 1 1 378.7 1245.1Z" fill="#689f38"/><text x="372.9" y="1240.2" text-anchor="middle" font-size="7.3" fill="#fff" style="font-family:'Liberation Sans',sans-serif">178.1</text>
<path d="M471.1 1410.8L465.3 1403.4A9.4 9.4 0 1 1 476.9 1403.4Z" fill="#38a39b"/><text x="471.1" y="1398.5" text-anchor="middle" font-size="7.3" fill="#fff" style="font-family:'Liberation Sans',sans-serif">2.3</text>
<text x="383.6" y="1246.7" text-anchor="middle" font-size="7.3" fill="#fff" stroke="#38a39b" stroke-width=".5" paint-order="stroke" style="font-family:'Liberation Sans',sans-serif">182.2</text>
<rect x="296" y="1192" width="14.9" height="8.3" rx="2" fill="#689f38"/><text x="314.1" y="1198.9" font-size="7.8" fill="#333" style="font-family:'Liberation Sans',sans-serif">Site A</text>
<rect x="341" y="1192" width="14.9" height="8.3" rx="2" fill="#38a39b"/><text x="359.2" y="1198.9" font-size="7.8" fill="#333" style="font-family:'Liberation Sans',sans-serif">Site B</text>
<g fill="none" stroke="#666" stroke-width=".7" stroke-linejoin="round" stroke-linecap="round"><path d="M419.2 1198.2H421.2L422.4 1194L424.2 1200L425.3 1197.2L426.2 1198.6H428.2M419.2 1202.7H428.4"/><path d="M436.8 1201V1198.2H438.8V1201M439.8 1201V1196H441.8V1201M442.8 1201V1193.5H444.8V1201M436.1 1202.7H445.7"/><path d="M454 1196.5A4.5 4.5 0 0 1 462 1195.5M462 1193.6V1195.7H460M462.2 1199.5A4.5 4.5 0 0 1 454.2 1200.5M454.2 1202.4V1200.3H456.2"/><path d="M474.4 1193.4V1200M471.8 1197.5L474.4 1200.2L477 1197.5M469.7 1202.7H479.2"/></g>
</svg>
<div class="card" style="left:532.1px;top:1118.3px;width:339.6px;height:326.4px"><div class="ch" style="height:39px"><div class="ct" style="top:13.5px"><span style="letter-spacing:.08px">Inclusive All Earnings</span></div></div></div>
<svg class="abs" style="left:0;top:1160px" width="885" height="290" viewBox="0 1160 885 290">
<path d="M575.9 1180V1410.4" stroke="#cfcfcf" stroke-width=".8" stroke-dasharray="1 1.4"/>
<path d="M630.8 1180V1410.4" stroke="#cfcfcf" stroke-width=".8" stroke-dasharray="1 1.4"/>
<path d="M685.6 1180V1410.4" stroke="#cfcfcf" stroke-width=".8" stroke-dasharray="1 1.4"/>
<path d="M740.5 1180V1410.4" stroke="#cfcfcf" stroke-width=".8" stroke-dasharray="1 1.4"/>
<path d="M795.3 1180V1410.4" stroke="#cfcfcf" stroke-width=".8" stroke-dasharray="1 1.4"/>
<path d="M850.2 1180V1410.4" stroke="#cfcfcf" stroke-width=".8" stroke-dasharray="1 1.4"/>
<path d="M575.9 1410.4H850.2" stroke="#cfcfcf" stroke-width=".8" stroke-dasharray="1 1.4"/>
<text x="570.4" y="1409.6" text-anchor="end" font-size="6.4" fill="#a0a0a0" style="font-family:'Liberation Sans',sans-serif">0</text>
<path d="M575.9 1396.0H850.2" stroke="#cfcfcf" stroke-width=".8" stroke-dasharray="1 1.4"/>
<text x="570.4" y="1395.2" text-anchor="end" font-size="6.4" fill="#a0a0a0" style="font-family:'Liberation Sans',sans-serif">0.5</text>
<path d="M575.9 1381.6H850.2" stroke="#cfcfcf" stroke-width=".8" stroke-dasharray="1 1.4"/>
<text x="570.4" y="1380.8" text-anchor="end" font-size="6.4" fill="#a0a0a0" style="font-family:'Liberation Sans',sans-serif">1</text>
<path d="M575.9 1367.2H850.2" stroke="#cfcfcf" stroke-width=".8" stroke-dasharray="1 1.4"/>
<text x="570.4" y="1366.4" text-anchor="end" font-size="6.4" fill="#a0a0a0" style="font-family:'Liberation Sans',sans-serif">1.5</text>
<path d="M575.9 1352.8H850.2" stroke="#cfcfcf" stroke-width=".8" stroke-dasharray="1 1.4"/>
<text x="570.4" y="1352.0" text-anchor="end" font-size="6.4" fill="#a0a0a0" style="font-family:'Liberation Sans',sans-serif">2</text>
<path d="M575.9 1338.4H850.2" stroke="#cfcfcf" stroke-width=".8" stroke-dasharray="1 1.4"/>
<text x="570.4" y="1337.6" text-anchor="end" font-size="6.4" fill="#a0a0a0" style="font-family:'Liberation Sans',sans-serif">2.5</text>
<path d="M575.9 1324.0H850.2" stroke="#cfcfcf" stroke-width=".8" stroke-dasharray="1 1.4"/>
<text x="570.4" y="1323.2" text-anchor="end" font-size="6.4" fill="#a0a0a0" style="font-family:'Liberation Sans',sans-serif">3</text>
<path d="M575.9 1309.6H850.2" stroke="#cfcfcf" stroke-width=".8" stroke-dasharray="1 1.4"/>
<text x="570.4" y="1308.8" text-anchor="end" font-size="6.4" fill="#a0a0a0" style="font-family:'Liberation Sans',sans-serif">3.5</text>
<path d="M575.9 1295.2H850.2" stroke="#cfcfcf" stroke-width=".8" stroke-dasharray="1 1.4"/>
<text x="570.4" y="1294.4" text-anchor="end" font-size="6.4" fill="#a0a0a0" style="font-family:'Liberation Sans',sans-serif">4</text>
<path d="M575.9 1280.8H850.2" stroke="#cfcfcf" stroke-width=".8" stroke-dasharray="1 1.4"/>
<text x="570.4" y="1280.0" text-anchor="end" font-size="6.4" fill="#a0a0a0" style="font-family:'Liberation Sans',sans-serif">4.5</text>
<path d="M575.9 1266.4H850.2" stroke="#cfcfcf" stroke-width=".8" stroke-dasharray="1 1.4"/>
<text x="570.4" y="1265.6" text-anchor="end" font-size="6.4" fill="#a0a0a0" style="font-family:'Liberation Sans',sans-serif">5</text>
<path d="M575.9 1252.0H850.2" stroke="#cfcfcf" stroke-width=".8" stroke-dasharray="1 1.4"/>
<text x="570.4" y="1251.2" text-anchor="end" font-size="6.4" fill="#a0a0a0" style="font-family:'Liberation Sans',sans-serif">5.5</text>
<path d="M575.9 1237.6H850.2" stroke="#cfcfcf" stroke-width=".8" stroke-dasharray="1 1.4"/>
<text x="570.4" y="1236.8" text-anchor="end" font-size="6.4" fill="#a0a0a0" style="font-family:'Liberation Sans',sans-serif">6</text>
<path d="M575.9 1223.2H850.2" stroke="#cfcfcf" stroke-width=".8" stroke-dasharray="1 1.4"/>
<text x="570.4" y="1222.4" text-anchor="end" font-size="6.4" fill="#a0a0a0" style="font-family:'Liberation Sans',sans-serif">6.5</text>
<path d="M575.9 1208.8H850.2" stroke="#cfcfcf" stroke-width=".8" stroke-dasharray="1 1.4"/>
<text x="570.4" y="1208.0" text-anchor="end" font-size="6.4" fill="#a0a0a0" style="font-family:'Liberation Sans',sans-serif">7</text>
<path d="M575.9 1194.4H850.2" stroke="#cfcfcf" stroke-width=".8" stroke-dasharray="1 1.4"/>
<text x="570.4" y="1193.6" text-anchor="end" font-size="6.4" fill="#a0a0a0" style="font-family:'Liberation Sans',sans-serif">7.5</text>
<path d="M575.9 1180.0H850.2" stroke="#cfcfcf" stroke-width=".8" stroke-dasharray="1 1.4"/>
<text x="570.4" y="1179.2" text-anchor="end" font-size="6.4" fill="#a0a0a0" style="font-family:'Liberation Sans',sans-serif">8</text>
<text x="575.9" y="1419.3" font-size="6.4" fill="#a0a0a0" style="font-family:'Liberation Sans',sans-serif">Mon</text>
<text x="630.8" y="1419.3" font-size="6.4" fill="#a0a0a0" style="font-family:'Liberation Sans',sans-serif">Tue</text>
<text x="685.6" y="1419.3" font-size="6.4" fill="#a0a0a0" style="font-family:'Liberation Sans',sans-serif">Wed</text>
<text x="740.5" y="1419.3" font-size="6.4" fill="#a0a0a0" style="font-family:'Liberation Sans',sans-serif">Thu</text>
<text x="795.3" y="1419.3" font-size="6.4" fill="#a0a0a0" style="font-family:'Liberation Sans',sans-serif">Fri</text>
<text x="850.2" y="1419.3" font-size="6.4" fill="#a0a0a0" style="font-family:'Liberation Sans',sans-serif">Sat</text>
<path d="M575.9 1381.6 C594.2 1343.2 612.5 1266.4 630.8 1266.4 C649.0 1266.4 667.3 1352.8 685.6 1352.8 C703.9 1352.8 722.2 1266.4 740.5 1266.4 C758.8 1266.4 777.1 1285.6 795.3 1295.2 C813.6 1304.8 831.9 1314.4 850.2 1324.0 L850.2 1410.4 L575.9 1410.4Z" fill="#3f77e8" fill-opacity="0.1"/>
<path d="M575.9 1352.8 C594.2 1343.2 612.5 1333.6 630.8 1324.0 C649.0 1314.4 667.3 1310.6 685.6 1295.2 C703.9 1279.8 722.2 1180.0 740.5 1180.0 C758.8 1180.0 777.1 1381.6 795.3 1381.6 C813.6 1381.6 831.9 1362.4 850.2 1352.8 L850.2 1410.4 L575.9 1410.4Z" fill="#9fb0c9" fill-opacity="0.1"/>
<path d="M575.9 1280.8 C594.2 1290.4 612.5 1301.1 630.8 1309.6 C649.0 1318.1 667.3 1324.6 685.6 1332.6 C703.9 1340.7 722.2 1349.4 740.5 1358.0 C758.8 1366.5 777.1 1378.2 795.3 1383.9 C813.6 1389.6 831.9 1392.4 850.2 1396.6 L850.2 1410.4 L575.9 1410.4Z" fill="#1db6d8" fill-opacity="0.1"/>
<path d="M575.9 1381.6 C594.2 1343.2 612.5 1266.4 630.8 1266.4 C649.0 1266.4 667.3 1352.8 685.6 1352.8 C703.9 1352.8 722.2 1266.4 740.5 1266.4 C758.8 1266.4 777.1 1285.6 795.3 1295.2 C813.6 1304.8 831.9 1314.4 850.2 1324.0" fill="none" stroke="#3f77e8" stroke-width="2.5" stroke-linecap="butt"/>
<path d="M575.9 1352.8 C594.2 1343.2 612.5 1333.6 630.8 1324.0 C649.0 1314.4 667.3 1310.6 685.6 1295.2 C703.9 1279.8 722.2 1180.0 740.5 1180.0 C758.8 1180.0 777.1 1381.6 795.3 1381.6 C813.6 1381.6 831.9 1362.4 850.2 1352.8" fill="none" stroke="#9fb0c9" stroke-width="2.5" stroke-linecap="butt"/>
<path d="M575.9 1280.8 C594.2 1290.4 612.5 1301.1 630.8 1309.6 C649.0 1318.1 667.3 1324.6 685.6 1332.6 C703.9 1340.7 722.2 1349.4 740.5 1358.0 C758.8 1366.5 777.1 1378.2 795.3 1383.9 C813.6 1389.6 831.9 1392.4 850.2 1396.6" fill="none" stroke="#1db6d8" stroke-width="2.5" stroke-linecap="butt"/>
</svg>
</div></div>
<div class="abs" style="left:817.2px;top:1468.2px;width:37px;height:37px;border-radius:3.5px;background:#ff8f00;box-shadow:0 2px 9px rgba(0,0,0,.14)"><svg class="abs" style="left:10.8px;top:11.3px" width="16.5" height="14.5" viewBox="0 0 16.5 14.5"><path d="M5 0H14.5A2 2 0 0 1 16.5 2V12L13.5 9.5H9.7V6A1.2 1.2 0 0 0 8.5 4.8H3.3V1.7A1.7 1.7 0 0 1 5 0Z" fill="#fff"/><path d="M1.2 6.2H8.3A1.2 1.2 0 0 1 9.5 7.4V12.2A1.2 1.2 0 0 1 8.3 13.4H2.2L0 14.5V7.4A1.2 1.2 0 0 1 1.2 6.2Z" fill="#fff" fill-opacity=".35"/></svg></div>
<div class="abs" style="left:853.9px;top:690.7px;width:34px;height:79.7px;border-radius:3.5px 0 0 3.5px;background:#fff;box-shadow:0 0 12px rgba(0,0,0,.08)"><div class="abs" style="left:4.85px;top:6.6px;width:22.1px;height:20.2px;border-radius:3px;background:#f3f6f9"></div><div class="abs" style="left:4.85px;top:30.1px;width:22.1px;height:20.1px;border-radius:3px;background:#f3f6f9"></div><div class="abs" style="left:4.85px;top:53.5px;width:22.1px;height:19.9px;border-radius:3px;background:#f3f6f9"></div><svg class="abs" style="left:9.1px;top:11.7px" width="12.2" height="7.8" viewBox="0 0 12.2 7.8"><rect x="0" y=".3" width="12.2" height="7.2" rx="1" fill="#38a39b"/><circle cx="6.1" cy="3.9" r="1.9" fill="none" stroke="#dff3f1" stroke-width=".9"/></svg><svg class="abs" style="left:10.1px;top:34.9px" width="10.4" height="8.6" viewBox="0 0 10.4 8.6"><rect width="10.4" height="8.6" rx="2" fill="#ed1044"/><path d="M1.8 6.6L4 3.8L6.2 6.6Z" fill="#fff"/><circle cx="7.3" cy="3" r="1.3" fill="#fff"/></svg><svg class="abs" style="left:10.1px;top:57.2px" width="11.2" height="10" viewBox="0 0 11.2 10"><path d="M3.2 0H10A1.2 1.2 0 0 1 11.2 1.2V8.4L9.2 6.8H6.5V4.2A.8 .8 0 0 0 5.7 3.4H2V1.2A1.2 1.2 0 0 1 3.2 0Z" fill="#ff8f00"/><path d="M.8 4.3H5.6A.8 .8 0 0 1 6.4 5.1V8.4A.8 .8 0 0 1 5.6 9.2H1.5L0 10V5.1A.8 .8 0 0 1 .8 4.3Z" fill="#ff8f00" fill-opacity=".4"/></svg></div>
<div class="abs" style="left:878px;top:0;width:7px;height:1536px;background:linear-gradient(90deg,rgba(0,0,0,0),rgba(0,0,0,.07));pointer-events:none"></div>

</body></html>
